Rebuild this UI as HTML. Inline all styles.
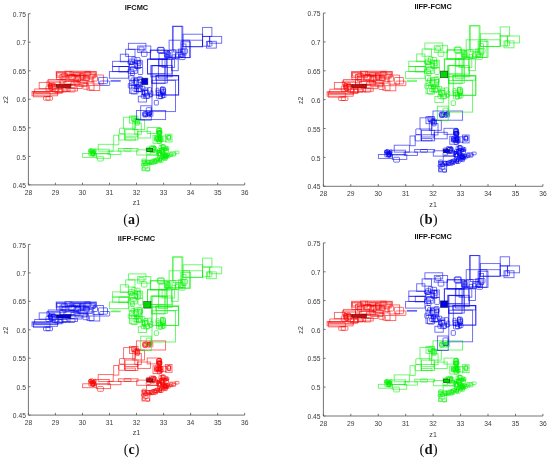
<!DOCTYPE html>
<html><head><meta charset="utf-8"><title>Figure</title>
<style>
html,body{margin:0;padding:0;background:#fff;}
body{width:550px;height:460px;overflow:hidden;}
svg{display:block;}
.tk{font-family:"Liberation Sans",sans-serif;font-size:6.7px;fill:#3a3a3a;}
.lb{font-family:"Liberation Sans",sans-serif;font-size:7.1px;fill:#3a3a3a;}
.tt{font-family:"Liberation Sans",sans-serif;font-size:7.4px;font-weight:bold;fill:#111;}
.cap{font-family:"Liberation Serif",serif;font-size:13.5px;fill:#111;}
.cap tspan{font-weight:bold;}
</style></head><body>
<svg width="550" height="460" viewBox="0 0 550 460">
<rect width="550" height="460" fill="#fff"/>
<defs><filter id="bl" x="-5%" y="-5%" width="110%" height="110%"><feGaussianBlur stdDeviation="0.4"/></filter></defs>

<g>
<g filter="url(#bl)">
<g fill="none" stroke="#f80000" stroke-width="0.9" stroke-opacity="0.62">
<rect x="39.2" y="82.4" width="10.3" height="6.2"/>
<rect x="33.0" y="91.5" width="25.0" height="2.5"/>
<rect x="32.0" y="91.5" width="25.6" height="4.3"/>
<rect x="34.7" y="89.0" width="27.3" height="4.3"/>
<rect x="33.5" y="92.5" width="16.5" height="4.3"/>
<rect x="43.5" y="96.5" width="6.5" height="3.7" rx="0.7"/>
<rect x="46.0" y="96.5" width="6.5" height="3.7" rx="0.7"/>
<rect x="48.2" y="79.5" width="17.8" height="2.7"/>
<rect x="47.0" y="81.0" width="13.0" height="4.0"/>
<rect x="49.0" y="84.0" width="7.0" height="6.0" rx="0.7"/>
<rect x="52.0" y="86.0" width="6.0" height="6.0" rx="0.7"/>
<rect x="46.0" y="86.0" width="7.0" height="5.0" rx="0.7"/>
<rect x="56.2" y="71.5" width="15.8" height="5.8"/>
<rect x="57.0" y="73.0" width="23.0" height="3.0"/>
<rect x="56.5" y="72.3" width="9.5" height="7.2"/>
<rect x="60.0" y="74.5" width="15.0" height="4.5"/>
<rect x="65.0" y="71.2" width="25.0" height="4.3"/>
<rect x="70.0" y="72.0" width="26.0" height="2.5"/>
<rect x="73.4" y="72.8" width="17.6" height="3.2"/>
<rect x="74.0" y="77.0" width="15.3" height="3.5"/>
<rect x="68.0" y="75.5" width="17.0" height="4.5"/>
<rect x="62.0" y="76.0" width="16.0" height="5.0"/>
<rect x="80.0" y="73.0" width="15.0" height="5.0"/>
<rect x="85.0" y="71.5" width="11.2" height="5.5"/>
<rect x="93.0" y="76.0" width="4.5" height="5.0" rx="0.7"/>
<rect x="89.3" y="85.5" width="10.4" height="5.0"/>
<rect x="87.0" y="81.5" width="7.0" height="8.5"/>
<rect x="93.0" y="75.0" width="10.4" height="9.0"/>
<rect x="83.0" y="83.7" width="5.4" height="5.5" rx="0.7"/>
<rect x="62.0" y="87.8" width="15.5" height="3.2"/>
<rect x="58.0" y="87.0" width="12.0" height="4.5"/>
<rect x="66.0" y="84.5" width="16.0" height="4.0"/>
<rect x="71.0" y="82.0" width="17.0" height="3.5"/>
<rect x="75.0" y="83.0" width="12.0" height="3.5"/>
<rect x="60.0" y="80.0" width="14.0" height="4.0"/>
<rect x="64.0" y="81.5" width="16.0" height="3.3"/>
<rect x="78.0" y="79.0" width="14.0" height="4.0"/>
<rect x="55.0" y="88.5" width="8.0" height="4.0"/>
<rect x="59.0" y="89.0" width="8.0" height="3.0"/>
<rect x="68.0" y="88.0" width="7.0" height="4.0" rx="0.7"/>
<rect x="51.7" y="82.9" width="3.3" height="2.9" rx="0.7"/>
<rect x="48.3" y="85.3" width="3.8" height="3.4" rx="0.7"/>
<rect x="48.4" y="83.0" width="2.6" height="3.6" rx="0.7"/>
<rect x="48.7" y="83.5" width="3.6" height="4.6" rx="0.7"/>
<rect x="50.8" y="84.1" width="4.1" height="4.9" rx="0.7"/>
<rect x="51.5" y="84.3" width="4.9" height="2.6" rx="0.7"/>
<rect x="49.9" y="87.6" width="2.9" height="2.8" rx="0.7"/>
<rect x="79.9" y="73.5" width="3.9" height="5.9" rx="0.7"/>
<rect x="61.7" y="73.4" width="5.7" height="3.3" rx="0.7"/>
<rect x="69.0" y="74.8" width="6.4" height="5.1" rx="0.7"/>
<rect x="83.6" y="75.8" width="5.3" height="4.5" rx="0.7"/>
<rect x="76.2" y="75.6" width="4.2" height="5.9" rx="0.7"/>
</g>
<g fill="none" stroke="#00f000" stroke-width="0.9" stroke-opacity="0.62">
<rect x="82.6" y="153.5" width="13.7" height="3.9"/>
<rect x="98.2" y="144.3" width="15.0" height="6.8"/>
<rect x="95.0" y="149.2" width="14.3" height="4.5"/>
<rect x="96.3" y="153.7" width="14.3" height="4.6"/>
<rect x="97.6" y="156.3" width="5.8" height="4.7" rx="0.7"/>
<rect x="108.0" y="151.1" width="13.0" height="3.3"/>
<rect x="118.4" y="148.5" width="19.6" height="2.6"/>
<rect x="124.0" y="148.5" width="7.0" height="2.6" rx="0.7"/>
<rect x="113.7" y="135.2" width="5.1" height="9.6"/>
<rect x="118.8" y="133.9" width="5.8" height="6.1" rx="0.7"/>
<rect x="119.5" y="128.2" width="5.1" height="5.7" rx="0.7"/>
<rect x="123.6" y="117.2" width="11.8" height="11.1"/>
<rect x="129.5" y="116.0" width="8.5" height="7.0"/>
<rect x="125.0" y="129.6" width="13.0" height="10.4"/>
<rect x="125.0" y="134.0" width="13.0" height="2.2"/>
<rect x="125.0" y="137.8" width="10.4" height="2.2"/>
<rect x="132.8" y="119.8" width="11.8" height="9.8"/>
<rect x="134.8" y="123.0" width="6.5" height="11.2"/>
<rect x="137.4" y="131.6" width="13.0" height="6.4"/>
<rect x="147.2" y="127.6" width="13.0" height="5.9"/>
<rect x="153.0" y="135.5" width="8.5" height="7.8"/>
<rect x="165.4" y="134.2" width="6.6" height="7.8"/>
<rect x="160.8" y="136.0" width="5.9" height="5.3" rx="0.7"/>
<rect x="169.3" y="151.8" width="6.5" height="3.2" rx="0.7"/>
<rect x="136.7" y="149.8" width="20.9" height="5.2"/>
<rect x="142.0" y="160.2" width="7.8" height="10.5"/>
<rect x="143.0" y="163.0" width="5.0" height="5.0" rx="0.7"/>
<rect x="146.5" y="155.0" width="11.1" height="8.5"/>
<rect x="149.8" y="160.2" width="6.5" height="4.0" rx="0.7"/>
<rect x="92.1" y="150.9" width="2.2" height="4.8" rx="0.7"/>
<rect x="88.8" y="151.3" width="2.3" height="4.6" rx="0.7"/>
<rect x="91.0" y="152.9" width="3.4" height="3.0" rx="0.7"/>
<rect x="91.2" y="149.8" width="2.8" height="2.4" rx="0.7"/>
<rect x="88.7" y="149.6" width="2.3" height="2.5" rx="0.7"/>
<rect x="92.3" y="149.9" width="2.9" height="2.9" rx="0.7"/>
<rect x="90.0" y="148.6" width="3.5" height="2.5" rx="0.7"/>
<rect x="92.3" y="151.7" width="2.8" height="2.0" rx="0.7"/>
<rect x="93.6" y="149.0" width="2.6" height="3.4" rx="0.7"/>
<rect x="90.2" y="152.3" width="4.5" height="3.3" rx="0.7"/>
<rect x="91.8" y="152.7" width="3.2" height="3.5" rx="0.7"/>
<rect x="92.0" y="150.6" width="3.0" height="4.5" rx="0.7"/>
<rect x="88.7" y="149.1" width="3.2" height="3.0" rx="0.7"/>
<rect x="89.9" y="149.1" width="2.2" height="4.2" rx="0.7"/>
<rect x="93.5" y="150.7" width="2.3" height="4.5" rx="0.7"/>
<rect x="89.9" y="150.8" width="2.8" height="2.7" rx="0.7"/>
<rect x="159.1" y="158.9" width="2.5" height="3.3" rx="0.7"/>
<rect x="158.3" y="158.7" width="4.9" height="3.6" rx="0.7"/>
<rect x="156.3" y="150.4" width="2.9" height="3.1" rx="0.7"/>
<rect x="158.2" y="152.0" width="3.4" height="3.5" rx="0.7"/>
<rect x="157.3" y="150.8" width="2.0" height="2.8" rx="0.7"/>
<rect x="159.6" y="148.4" width="2.1" height="2.1" rx="0.7"/>
<rect x="163.2" y="154.2" width="3.8" height="3.6" rx="0.7"/>
<rect x="159.7" y="149.0" width="4.1" height="4.6" rx="0.7"/>
<rect x="162.1" y="154.7" width="5.0" height="2.4" rx="0.7"/>
<rect x="166.0" y="153.2" width="2.1" height="4.5" rx="0.7"/>
<rect x="157.5" y="151.8" width="4.2" height="4.4" rx="0.7"/>
<rect x="163.9" y="155.9" width="3.5" height="4.5" rx="0.7"/>
<rect x="162.6" y="154.0" width="3.8" height="4.7" rx="0.7"/>
<rect x="157.7" y="150.4" width="2.7" height="2.1" rx="0.7"/>
<rect x="162.3" y="153.2" width="2.3" height="4.5" rx="0.7"/>
<rect x="160.8" y="144.6" width="3.9" height="4.0" rx="0.7"/>
<rect x="160.6" y="152.1" width="4.4" height="4.2" rx="0.7"/>
<rect x="162.9" y="148.6" width="4.0" height="2.2" rx="0.7"/>
<rect x="164.2" y="147.8" width="2.2" height="2.8" rx="0.7"/>
<rect x="160.6" y="149.7" width="4.2" height="4.9" rx="0.7"/>
<rect x="163.6" y="153.3" width="3.4" height="4.1" rx="0.7"/>
<rect x="157.6" y="148.7" width="3.9" height="2.2" rx="0.7"/>
<rect x="161.3" y="144.8" width="4.2" height="2.9" rx="0.7"/>
<rect x="163.6" y="155.3" width="2.2" height="2.8" rx="0.7"/>
<rect x="160.9" y="151.7" width="4.0" height="2.9" rx="0.7"/>
<rect x="164.9" y="147.8" width="3.4" height="2.4" rx="0.7"/>
<rect x="156.4" y="150.7" width="4.9" height="4.8" rx="0.7"/>
<rect x="160.1" y="148.2" width="4.5" height="4.9" rx="0.7"/>
<rect x="158.5" y="152.4" width="2.6" height="4.8" rx="0.7"/>
<rect x="166.4" y="146.5" width="2.4" height="3.6" rx="0.7"/>
<rect x="163.9" y="154.9" width="4.5" height="3.5" rx="0.7"/>
<rect x="161.3" y="144.9" width="2.7" height="4.7" rx="0.7"/>
<rect x="161.3" y="149.0" width="2.0" height="3.5" rx="0.7"/>
<rect x="159.6" y="157.3" width="2.4" height="3.0" rx="0.7"/>
<rect x="165.5" y="146.3" width="2.0" height="4.3" rx="0.7"/>
<rect x="163.7" y="148.7" width="4.8" height="4.1" rx="0.7"/>
<rect x="166.2" y="153.5" width="3.1" height="3.2" rx="0.7"/>
<rect x="159.0" y="145.3" width="3.1" height="3.3" rx="0.7"/>
<rect x="159.4" y="157.4" width="2.3" height="4.5" rx="0.7"/>
<rect x="161.5" y="147.5" width="2.7" height="2.8" rx="0.7"/>
<rect x="135.5" y="119.4" width="3.8" height="5.8" rx="0.7"/>
<rect x="135.0" y="118.4" width="4.7" height="5.7" rx="0.7"/>
<rect x="133.6" y="119.3" width="5.0" height="2.7" rx="0.7"/>
<rect x="131.4" y="116.3" width="5.1" height="4.8" rx="0.7"/>
<rect x="132.0" y="118.4" width="5.7" height="2.9" rx="0.7"/>
<rect x="146.6" y="160.3" width="3.2" height="4.3" rx="0.7"/>
<rect x="143.7" y="161.8" width="4.1" height="3.3" rx="0.7"/>
<rect x="142.3" y="167.1" width="2.9" height="2.9" rx="0.7"/>
<rect x="145.8" y="167.9" width="3.7" height="3.1" rx="0.7"/>
<rect x="142.0" y="158.9" width="3.6" height="2.8" rx="0.7"/>
<rect x="142.3" y="160.7" width="3.4" height="2.7" rx="0.7"/>
<rect x="149.6" y="147.0" width="4.5" height="5.6" rx="0.7"/>
<rect x="146.3" y="147.2" width="3.9" height="4.3" rx="0.7"/>
<rect x="153.3" y="146.3" width="2.7" height="3.5" rx="0.7"/>
<rect x="150.8" y="146.5" width="4.3" height="4.7" rx="0.7"/>
<rect x="146.7" y="148.1" width="3.4" height="3.4" rx="0.7"/>
<rect x="149.5" y="145.7" width="5.8" height="5.5" rx="0.7"/>
<rect x="152.6" y="147.5" width="2.6" height="5.0" rx="0.7"/>
<rect x="146.2" y="151.6" width="4.6" height="2.5" rx="0.7"/>
<rect x="150.8" y="146.5" width="5.4" height="5.5" rx="0.7"/>
<rect x="158.0" y="137.1" width="2.8" height="2.9" rx="0.7"/>
<rect x="157.0" y="137.1" width="4.9" height="4.3" rx="0.7"/>
<rect x="156.6" y="137.6" width="3.6" height="3.9" rx="0.7"/>
<rect x="158.1" y="131.5" width="3.1" height="4.8" rx="0.7"/>
<rect x="158.3" y="137.1" width="2.8" height="3.1" rx="0.7"/>
<rect x="158.0" y="135.9" width="2.8" height="2.7" rx="0.7"/>
<rect x="157.8" y="128.1" width="3.5" height="3.1" rx="0.7"/>
<rect x="158.7" y="136.1" width="3.3" height="3.7" rx="0.7"/>
<rect x="156.7" y="131.1" width="4.7" height="3.7" rx="0.7"/>
<rect x="156.7" y="128.3" width="4.9" height="4.3" rx="0.7"/>
<rect x="157.3" y="131.1" width="3.7" height="4.2" rx="0.7"/>
<rect x="156.8" y="128.4" width="4.2" height="4.8" rx="0.7"/>
<rect x="158.0" y="130.5" width="3.3" height="3.6" rx="0.7"/>
<rect x="157.1" y="130.4" width="4.5" height="4.3" rx="0.7"/>
<rect x="157.1" y="131.0" width="4.9" height="3.3" rx="0.7"/>
<rect x="157.3" y="139.2" width="3.1" height="4.4" rx="0.7"/>
<rect x="155.1" y="137.3" width="3.7" height="3.0" rx="0.7"/>
<rect x="154.5" y="136.5" width="4.2" height="4.9" rx="0.7"/>
<rect x="154.7" y="135.8" width="3.0" height="4.9" rx="0.7"/>
<rect x="160.1" y="138.7" width="2.7" height="3.5" rx="0.7"/>
<rect x="158.8" y="136.3" width="4.3" height="5.0" rx="0.7"/>
<rect x="158.8" y="135.8" width="3.0" height="4.8" rx="0.7"/>
<rect x="155.8" y="136.8" width="4.2" height="3.4" rx="0.7"/>
<rect x="155.6" y="137.2" width="2.9" height="2.5" rx="0.7"/>
<rect x="174.9" y="151.1" width="4.1" height="2.6" rx="0.7"/>
<rect x="171.9" y="153.0" width="3.8" height="3.1" rx="0.7"/>
<rect x="169.9" y="152.5" width="3.0" height="4.0" rx="0.7"/>
<rect x="167.8" y="153.9" width="4.0" height="2.3" rx="0.7"/>
<rect x="166.5" y="155.5" width="3.7" height="2.3" rx="0.7"/>
<rect x="163.7" y="154.5" width="4.0" height="2.7" rx="0.7"/>
<rect x="163.8" y="156.8" width="2.9" height="2.8" rx="0.7"/>
<rect x="162.4" y="156.5" width="2.7" height="3.6" rx="0.7"/>
<rect x="159.5" y="156.5" width="2.2" height="3.7" rx="0.7"/>
<rect x="157.9" y="158.6" width="4.1" height="2.3" rx="0.7"/>
<rect x="154.7" y="158.1" width="4.1" height="4.1" rx="0.7"/>
<rect x="153.6" y="158.8" width="3.1" height="3.2" rx="0.7"/>
<rect x="152.4" y="159.1" width="3.8" height="3.7" rx="0.7"/>
<rect x="150.5" y="161.4" width="3.4" height="2.9" rx="0.7"/>
<rect x="141.4" y="163.6" width="3.5" height="2.2" rx="0.7"/>
<rect x="143.6" y="163.6" width="2.5" height="2.2" rx="0.7"/>
<rect x="145.1" y="161.6" width="2.7" height="3.9" rx="0.7"/>
<rect x="148.8" y="162.5" width="2.6" height="2.3" rx="0.7"/>
<rect x="148.7" y="160.4" width="3.4" height="2.9" rx="0.7"/>
<rect x="151.0" y="159.2" width="3.2" height="3.3" rx="0.7"/>
<rect x="153.9" y="159.8" width="3.3" height="2.3" rx="0.7"/>
<rect x="156.1" y="157.7" width="3.1" height="2.8" rx="0.7"/>
<rect x="166.1" y="135.7" width="4.3" height="3.0" rx="0.7"/>
<rect x="167.8" y="135.4" width="2.9" height="4.7" rx="0.7"/>
<rect x="167.2" y="135.1" width="3.5" height="5.0" rx="0.7"/>
</g>
<g fill="none" stroke="#0000f0" stroke-width="0.9" stroke-opacity="0.62">
<rect x="136.4" y="110.5" width="29.2" height="9.1"/>
<rect x="147.1" y="112.1" width="2.9" height="3.6" rx="0.7"/>
<rect x="148.9" y="111.4" width="3.0" height="3.3" rx="0.7"/>
<rect x="142.6" y="112.1" width="3.9" height="3.6" rx="0.7"/>
<rect x="143.0" y="113.3" width="4.1" height="3.8" rx="0.7"/>
<rect x="143.3" y="111.6" width="4.5" height="4.9" rx="0.7"/>
<rect x="145.0" y="111.6" width="2.6" height="4.4" rx="0.7"/>
<rect x="149.3" y="111.6" width="3.6" height="4.8" rx="0.7"/>
<rect x="147.6" y="112.0" width="2.9" height="4.8" rx="0.7"/>
<rect x="148.7" y="112.7" width="2.7" height="2.6" rx="0.7"/>
</g>
<g fill="none" stroke="#0000f0" stroke-width="0.9" stroke-opacity="0.62">
<rect x="111.0" y="80.6" width="9.3" height="0.7"/>
<rect x="172.4" y="26.3" width="9.5" height="23.7"/>
<rect x="173.2" y="26.3" width="9.6" height="25.7"/>
<rect x="183.0" y="34.2" width="19.6" height="12.5"/>
<rect x="183.0" y="40.2" width="19.6" height="6.5"/>
<rect x="202.6" y="27.4" width="9.3" height="9.0"/>
<rect x="209.7" y="36.4" width="12.0" height="6.8"/>
<rect x="206.4" y="41.3" width="9.9" height="6.8"/>
<rect x="207.5" y="41.3" width="4.4" height="4.9" rx="0.7"/>
<rect x="202.6" y="36.4" width="7.1" height="9.8"/>
<rect x="169.1" y="40.2" width="20.4" height="17.4"/>
<rect x="180.8" y="41.8" width="9.8" height="15.8"/>
<rect x="182.0" y="44.0" width="4.0" height="11.0"/>
<rect x="150.4" y="50.0" width="16.9" height="9.3"/>
<rect x="158.0" y="47.3" width="6.0" height="6.0" rx="0.7"/>
<rect x="159.0" y="53.3" width="7.7" height="13.1"/>
<rect x="147.6" y="59.3" width="24.4" height="14.7"/>
<rect x="152.0" y="65.8" width="15.3" height="17.2"/>
<rect x="171.6" y="58.7" width="6.6" height="12.0"/>
<rect x="156.4" y="75.6" width="22.3" height="19.4"/>
<rect x="128.4" y="43.3" width="17.5" height="6.0"/>
<rect x="125.7" y="49.3" width="9.3" height="7.1"/>
<rect x="137.7" y="46.0" width="13.1" height="6.5"/>
<rect x="139.0" y="47.0" width="5.0" height="4.0" rx="0.7"/>
<rect x="141.5" y="51.0" width="5.5" height="5.4" rx="0.7"/>
<rect x="120.3" y="54.2" width="8.1" height="7.6"/>
<rect x="112.6" y="61.3" width="16.4" height="5.2"/>
<rect x="112.6" y="66.5" width="16.4" height="5.1"/>
<rect x="109.4" y="71.6" width="19.0" height="6.6"/>
<rect x="119.0" y="66.5" width="9.4" height="5.5"/>
<rect x="147.5" y="59.0" width="17.5" height="14.8"/>
<rect x="151.9" y="65.6" width="13.1" height="18.0"/>
<rect x="150.3" y="50.4" width="14.7" height="8.6"/>
<rect x="157.3" y="47.6" width="6.7" height="4.9" rx="0.7"/>
<rect x="152.0" y="76.0" width="26.5" height="19.0"/>
<rect x="152.0" y="80.3" width="23.5" height="31.3"/>
<rect x="140.7" y="105.8" width="10.6" height="14.3"/>
<rect x="146.3" y="107.7" width="5.0" height="7.4" rx="0.7"/>
<rect x="138.3" y="96.2" width="8.3" height="5.8"/>
<rect x="154.3" y="100.4" width="4.1" height="4.6" rx="0.7"/>
<rect x="129.5" y="85.0" width="7.0" height="8.3"/>
<rect x="131.0" y="88.0" width="7.0" height="6.0" rx="0.7"/>
<rect x="158.4" y="59.2" width="8.7" height="18.9"/>
<rect x="150.8" y="65.5" width="21.4" height="11.3"/>
<rect x="162.1" y="59.2" width="12.5" height="8.2"/>
<rect x="155.8" y="75.5" width="22.6" height="4.5"/>
<rect x="181.0" y="48.9" width="6.6" height="4.4" rx="0.7"/>
<rect x="166.9" y="50.5" width="5.1" height="6.8" rx="0.7"/>
<rect x="179.9" y="51.2" width="3.2" height="6.3" rx="0.7"/>
<rect x="175.6" y="52.4" width="7.4" height="4.6" rx="0.7"/>
<rect x="179.2" y="54.3" width="5.9" height="5.3" rx="0.7"/>
<rect x="165.1" y="52.0" width="5.4" height="6.3" rx="0.7"/>
<rect x="178.6" y="49.1" width="6.2" height="8.0"/>
<rect x="164.4" y="50.6" width="4.9" height="6.3" rx="0.7"/>
<rect x="165.2" y="54.5" width="3.8" height="3.6" rx="0.7"/>
<rect x="172.0" y="54.8" width="3.6" height="4.2" rx="0.7"/>
<rect x="175.3" y="54.0" width="3.4" height="5.2" rx="0.7"/>
<rect x="168.7" y="49.9" width="7.1" height="7.3" rx="0.7"/>
<rect x="137.8" y="60.3" width="4.8" height="7.4" rx="0.7"/>
<rect x="130.6" y="71.4" width="3.9" height="4.2" rx="0.7"/>
<rect x="128.0" y="69.3" width="5.9" height="4.3" rx="0.7"/>
<rect x="137.7" y="76.8" width="4.8" height="5.8" rx="0.7"/>
<rect x="134.4" y="57.6" width="5.6" height="6.1" rx="0.7"/>
<rect x="134.6" y="79.2" width="7.5" height="6.9" rx="0.7"/>
<rect x="129.0" y="75.7" width="5.0" height="5.0" rx="0.7"/>
<rect x="130.4" y="61.3" width="3.3" height="3.3" rx="0.7"/>
<rect x="128.0" y="61.0" width="4.7" height="3.3" rx="0.7"/>
<rect x="128.3" y="83.3" width="3.5" height="4.8" rx="0.7"/>
<rect x="130.3" y="67.2" width="6.1" height="3.7" rx="0.7"/>
<rect x="136.6" y="88.2" width="4.8" height="3.6" rx="0.7"/>
<rect x="128.8" y="59.1" width="5.3" height="5.4" rx="0.7"/>
<rect x="136.5" y="61.1" width="4.7" height="4.3" rx="0.7"/>
<rect x="134.3" y="60.1" width="3.1" height="7.8"/>
<rect x="132.9" y="88.2" width="5.7" height="3.1" rx="0.7"/>
<rect x="130.0" y="66.8" width="7.3" height="6.5" rx="0.7"/>
<rect x="133.9" y="78.7" width="3.8" height="6.9" rx="0.7"/>
<rect x="136.4" y="87.4" width="4.6" height="4.1" rx="0.7"/>
<rect x="134.3" y="77.4" width="7.3" height="7.0" rx="0.7"/>
<rect x="131.9" y="56.9" width="4.1" height="5.6" rx="0.7"/>
<rect x="131.1" y="77.9" width="3.1" height="4.4" rx="0.7"/>
<rect x="134.8" y="86.4" width="7.8" height="5.2"/>
<rect x="129.6" y="63.1" width="7.8" height="4.8"/>
<rect x="134.9" y="84.8" width="4.0" height="4.0" rx="0.7"/>
<rect x="133.1" y="80.5" width="7.2" height="5.4" rx="0.7"/>
<rect x="138.5" y="79.2" width="3.4" height="6.3" rx="0.7"/>
<rect x="129.5" y="80.2" width="6.8" height="5.4" rx="0.7"/>
<rect x="138.0" y="67.5" width="4.7" height="7.0" rx="0.7"/>
<rect x="135.2" y="60.8" width="5.0" height="7.7"/>
<rect x="149.1" y="94.0" width="2.9" height="3.0" rx="0.7"/>
<rect x="149.8" y="91.0" width="3.0" height="5.4" rx="0.7"/>
<rect x="141.2" y="86.1" width="3.7" height="4.4" rx="0.7"/>
<rect x="143.7" y="93.7" width="5.9" height="4.8" rx="0.7"/>
<rect x="147.4" y="87.6" width="4.0" height="5.6" rx="0.7"/>
<rect x="142.3" y="91.6" width="3.4" height="3.5" rx="0.7"/>
<rect x="141.3" y="94.2" width="3.4" height="4.0" rx="0.7"/>
<rect x="145.4" y="94.0" width="3.7" height="4.1" rx="0.7"/>
<rect x="144.5" y="89.9" width="4.0" height="5.7" rx="0.7"/>
<rect x="143.8" y="87.9" width="4.3" height="2.6" rx="0.7"/>
<rect x="141.8" y="89.6" width="2.5" height="5.3" rx="0.7"/>
<rect x="142.6" y="90.4" width="5.0" height="4.4" rx="0.7"/>
<rect x="156.1" y="90.3" width="4.4" height="5.2" rx="0.7"/>
<rect x="161.0" y="90.8" width="3.4" height="3.5" rx="0.7"/>
<rect x="161.0" y="89.5" width="4.5" height="5.2" rx="0.7"/>
<rect x="158.5" y="92.0" width="4.6" height="4.3" rx="0.7"/>
<rect x="158.6" y="94.1" width="4.1" height="4.4" rx="0.7"/>
<rect x="160.7" y="87.9" width="4.9" height="5.6" rx="0.7"/>
<rect x="160.6" y="87.0" width="4.5" height="5.8" rx="0.7"/>
<rect x="156.0" y="88.2" width="2.9" height="4.0" rx="0.7"/>
<rect x="161.6" y="93.3" width="2.8" height="4.8" rx="0.7"/>
<rect x="160.4" y="87.1" width="3.0" height="5.0" rx="0.7"/>
<rect x="156.6" y="92.8" width="5.6" height="5.9" rx="0.7"/>
<rect x="162.0" y="93.3" width="3.9" height="4.2" rx="0.7"/>
</g>
<g fill="none" stroke="#0000f0" stroke-width="0.9" stroke-opacity="0.62">
<rect x="98.4" y="77.4" width="9.1" height="6.3" rx="0.7"/>
<rect x="99.7" y="81.0" width="10.0" height="4.5" rx="0.7"/>
</g>
<rect x="56.5" y="84.3" width="14.4" height="3.2" fill="#e80000" stroke="#111" stroke-opacity="0.7" stroke-width="0.7"/>
<rect x="146.7" y="148.4" width="6.1" height="3.2" fill="#00d800" stroke="#111" stroke-opacity="0.7" stroke-width="0.7"/>
<rect x="142.1" y="78.2" width="5.7" height="6.5" fill="#0000f0" stroke="#111" stroke-opacity="0.7" stroke-width="0.7"/>
</g>
<path d="M28.4 13.7V184.9H244.7" fill="none" stroke="#5c5c5c" stroke-width="0.85"/>
<path d="M28.4 184.9v-2.2M55.4 184.9v-2.2M82.5 184.9v-2.2M109.5 184.9v-2.2M136.5 184.9v-2.2M163.6 184.9v-2.2M190.6 184.9v-2.2M217.7 184.9v-2.2M244.7 184.9v-2.2M28.4 184.9h2.2M28.4 156.4h2.2M28.4 127.8h2.2M28.4 99.3h2.2M28.4 70.8h2.2M28.4 42.2h2.2M28.4 13.7h2.2" fill="none" stroke="#5c5c5c" stroke-width="0.85"/>
<text class="tk" x="28.4" y="194.6" text-anchor="middle">28</text>
<text class="tk" x="55.4" y="194.6" text-anchor="middle">29</text>
<text class="tk" x="82.5" y="194.6" text-anchor="middle">30</text>
<text class="tk" x="109.5" y="194.6" text-anchor="middle">31</text>
<text class="tk" x="136.5" y="194.6" text-anchor="middle">32</text>
<text class="tk" x="163.6" y="194.6" text-anchor="middle">33</text>
<text class="tk" x="190.6" y="194.6" text-anchor="middle">34</text>
<text class="tk" x="217.7" y="194.6" text-anchor="middle">35</text>
<text class="tk" x="244.7" y="194.6" text-anchor="middle">36</text>
<text class="tk" x="25.9" y="188.0" text-anchor="end">0.45</text>
<text class="tk" x="25.9" y="159.5" text-anchor="end">0.5</text>
<text class="tk" x="25.9" y="130.9" text-anchor="end">0.55</text>
<text class="tk" x="25.9" y="102.4" text-anchor="end">0.6</text>
<text class="tk" x="25.9" y="73.9" text-anchor="end">0.65</text>
<text class="tk" x="25.9" y="45.3" text-anchor="end">0.7</text>
<text class="tk" x="25.9" y="16.8" text-anchor="end">0.75</text>
<text class="lb" x="136.5" y="204.8" text-anchor="middle">z1</text>
<text class="lb" transform="translate(8.4 99.8) rotate(-90)" text-anchor="middle">z2</text>
<text class="tt" x="136.5" y="10.1" text-anchor="middle">IFCMC</text>
<text class="cap" style="font-size:14px" x="131.5" y="223.5" text-anchor="middle">(<tspan>a</tspan>)</text>
</g>
<g>
<g filter="url(#bl)">
<g fill="none" stroke="#f80000" stroke-width="0.9" stroke-opacity="0.62">
<rect x="334.4" y="82.5" width="10.5" height="6.3"/>
<rect x="328.1" y="91.8" width="25.4" height="2.5"/>
<rect x="327.1" y="91.8" width="26.0" height="4.4"/>
<rect x="329.8" y="89.2" width="27.7" height="4.4"/>
<rect x="328.6" y="92.8" width="16.7" height="4.4"/>
<rect x="338.7" y="96.8" width="6.6" height="3.7" rx="0.7"/>
<rect x="341.3" y="96.8" width="6.6" height="3.7" rx="0.7"/>
<rect x="343.5" y="79.6" width="18.1" height="2.7"/>
<rect x="342.3" y="81.1" width="13.2" height="4.0"/>
<rect x="344.3" y="84.2" width="7.1" height="6.1" rx="0.7"/>
<rect x="347.3" y="86.2" width="6.1" height="6.1" rx="0.7"/>
<rect x="341.3" y="86.2" width="7.1" height="5.1" rx="0.7"/>
<rect x="351.6" y="71.5" width="16.0" height="5.9"/>
<rect x="352.4" y="73.0" width="23.3" height="3.0"/>
<rect x="351.9" y="72.3" width="9.6" height="7.3"/>
<rect x="355.5" y="74.5" width="15.2" height="4.6"/>
<rect x="360.5" y="71.2" width="25.4" height="4.4"/>
<rect x="365.6" y="72.0" width="26.4" height="2.5"/>
<rect x="369.1" y="72.8" width="17.9" height="3.2"/>
<rect x="369.7" y="77.1" width="15.5" height="3.5"/>
<rect x="363.6" y="75.6" width="17.3" height="4.6"/>
<rect x="357.5" y="76.1" width="16.2" height="5.1"/>
<rect x="375.8" y="73.0" width="15.2" height="5.1"/>
<rect x="380.8" y="71.5" width="11.4" height="5.6"/>
<rect x="389.0" y="76.1" width="4.6" height="5.1" rx="0.7"/>
<rect x="385.2" y="85.7" width="10.6" height="5.1"/>
<rect x="382.9" y="81.6" width="7.1" height="8.6"/>
<rect x="389.0" y="75.1" width="10.6" height="9.1"/>
<rect x="378.8" y="83.9" width="5.5" height="5.6" rx="0.7"/>
<rect x="357.5" y="88.0" width="15.7" height="3.2"/>
<rect x="353.4" y="87.2" width="12.2" height="4.6"/>
<rect x="361.6" y="84.7" width="16.2" height="4.0"/>
<rect x="366.6" y="82.1" width="17.3" height="3.5"/>
<rect x="370.7" y="83.2" width="12.2" height="3.5"/>
<rect x="355.5" y="80.1" width="14.2" height="4.0"/>
<rect x="359.5" y="81.6" width="16.2" height="3.3"/>
<rect x="373.7" y="79.1" width="14.2" height="4.0"/>
<rect x="350.4" y="88.7" width="8.1" height="4.0"/>
<rect x="354.5" y="89.2" width="8.1" height="3.0"/>
<rect x="363.6" y="88.2" width="7.1" height="4.0" rx="0.7"/>
<rect x="347.0" y="83.1" width="3.4" height="2.9" rx="0.7"/>
<rect x="343.6" y="85.5" width="3.9" height="3.5" rx="0.7"/>
<rect x="343.7" y="83.1" width="2.6" height="3.6" rx="0.7"/>
<rect x="344.0" y="83.6" width="3.6" height="4.6" rx="0.7"/>
<rect x="346.2" y="84.3" width="4.1" height="4.9" rx="0.7"/>
<rect x="346.8" y="84.5" width="5.0" height="2.6" rx="0.7"/>
<rect x="345.2" y="87.8" width="2.9" height="2.8" rx="0.7"/>
<rect x="375.6" y="73.6" width="4.0" height="6.0" rx="0.7"/>
<rect x="357.2" y="73.4" width="5.8" height="3.4" rx="0.7"/>
<rect x="364.6" y="74.9" width="6.5" height="5.2" rx="0.7"/>
<rect x="379.4" y="75.9" width="5.3" height="4.6" rx="0.7"/>
<rect x="371.9" y="75.7" width="4.3" height="5.9" rx="0.7"/>
</g>
<g fill="none" stroke="#0000f0" stroke-width="0.9" stroke-opacity="0.62">
<rect x="378.4" y="154.5" width="13.9" height="3.9"/>
<rect x="394.2" y="145.2" width="15.2" height="6.9"/>
<rect x="391.0" y="150.2" width="14.5" height="4.6"/>
<rect x="392.3" y="154.7" width="14.5" height="4.7"/>
<rect x="393.6" y="157.3" width="5.9" height="4.8" rx="0.7"/>
<rect x="404.2" y="152.1" width="13.2" height="3.3"/>
<rect x="414.7" y="149.5" width="19.9" height="2.6"/>
<rect x="420.4" y="149.5" width="7.1" height="2.6" rx="0.7"/>
<rect x="410.0" y="136.0" width="5.2" height="9.7"/>
<rect x="415.1" y="134.7" width="5.9" height="6.2" rx="0.7"/>
<rect x="415.8" y="128.9" width="5.2" height="5.8" rx="0.7"/>
<rect x="420.0" y="117.8" width="12.0" height="11.2"/>
<rect x="426.0" y="116.6" width="8.6" height="7.1"/>
<rect x="421.4" y="130.3" width="13.2" height="10.5"/>
<rect x="421.4" y="134.8" width="13.2" height="2.2"/>
<rect x="421.4" y="138.6" width="10.6" height="2.2"/>
<rect x="429.3" y="120.4" width="12.0" height="9.9"/>
<rect x="431.4" y="123.6" width="6.6" height="11.3"/>
<rect x="434.0" y="132.3" width="13.2" height="6.5"/>
<rect x="444.0" y="128.3" width="13.2" height="6.0"/>
<rect x="449.8" y="136.3" width="8.6" height="7.9"/>
<rect x="462.4" y="135.0" width="6.7" height="7.9"/>
<rect x="457.8" y="136.8" width="6.0" height="5.4" rx="0.7"/>
<rect x="466.4" y="152.8" width="6.6" height="3.2" rx="0.7"/>
<rect x="433.3" y="150.8" width="21.2" height="5.3"/>
<rect x="438.7" y="161.3" width="7.9" height="10.6"/>
<rect x="439.7" y="164.1" width="5.1" height="5.1" rx="0.7"/>
<rect x="443.2" y="156.0" width="11.3" height="8.6"/>
<rect x="446.6" y="161.3" width="6.6" height="4.0" rx="0.7"/>
<rect x="388.1" y="151.9" width="2.3" height="4.9" rx="0.7"/>
<rect x="384.7" y="152.3" width="2.3" height="4.6" rx="0.7"/>
<rect x="386.9" y="153.9" width="3.4" height="3.1" rx="0.7"/>
<rect x="387.1" y="150.8" width="2.8" height="2.4" rx="0.7"/>
<rect x="384.6" y="150.5" width="2.4" height="2.5" rx="0.7"/>
<rect x="388.3" y="150.9" width="3.0" height="3.0" rx="0.7"/>
<rect x="385.9" y="149.6" width="3.6" height="2.6" rx="0.7"/>
<rect x="388.3" y="152.7" width="2.8" height="2.1" rx="0.7"/>
<rect x="389.5" y="149.9" width="2.6" height="3.5" rx="0.7"/>
<rect x="386.1" y="153.3" width="4.5" height="3.3" rx="0.7"/>
<rect x="387.7" y="153.7" width="3.2" height="3.6" rx="0.7"/>
<rect x="387.9" y="151.6" width="3.1" height="4.6" rx="0.7"/>
<rect x="384.6" y="150.1" width="3.3" height="3.1" rx="0.7"/>
<rect x="385.8" y="150.0" width="2.2" height="4.3" rx="0.7"/>
<rect x="389.5" y="151.7" width="2.3" height="4.6" rx="0.7"/>
<rect x="385.9" y="151.8" width="2.9" height="2.8" rx="0.7"/>
<rect x="456.0" y="160.0" width="2.5" height="3.4" rx="0.7"/>
<rect x="455.2" y="159.7" width="5.0" height="3.7" rx="0.7"/>
<rect x="453.2" y="151.4" width="3.0" height="3.1" rx="0.7"/>
<rect x="455.1" y="153.0" width="3.5" height="3.6" rx="0.7"/>
<rect x="454.2" y="151.7" width="2.0" height="2.8" rx="0.7"/>
<rect x="456.5" y="149.3" width="2.2" height="2.1" rx="0.7"/>
<rect x="460.2" y="155.2" width="3.8" height="3.6" rx="0.7"/>
<rect x="456.7" y="150.0" width="4.2" height="4.7" rx="0.7"/>
<rect x="459.1" y="155.8" width="5.0" height="2.5" rx="0.7"/>
<rect x="463.0" y="154.2" width="2.2" height="4.6" rx="0.7"/>
<rect x="454.4" y="152.8" width="4.3" height="4.5" rx="0.7"/>
<rect x="460.9" y="157.0" width="3.6" height="4.6" rx="0.7"/>
<rect x="459.6" y="155.0" width="3.8" height="4.7" rx="0.7"/>
<rect x="454.6" y="151.4" width="2.7" height="2.1" rx="0.7"/>
<rect x="459.2" y="154.2" width="2.3" height="4.6" rx="0.7"/>
<rect x="457.7" y="145.6" width="3.9" height="4.1" rx="0.7"/>
<rect x="457.6" y="153.1" width="4.5" height="4.3" rx="0.7"/>
<rect x="459.9" y="149.6" width="4.0" height="2.2" rx="0.7"/>
<rect x="461.2" y="148.7" width="2.3" height="2.8" rx="0.7"/>
<rect x="457.6" y="150.6" width="4.3" height="5.0" rx="0.7"/>
<rect x="460.6" y="154.3" width="3.5" height="4.1" rx="0.7"/>
<rect x="454.5" y="149.6" width="4.0" height="2.3" rx="0.7"/>
<rect x="458.2" y="145.7" width="4.3" height="2.9" rx="0.7"/>
<rect x="460.6" y="156.3" width="2.2" height="2.8" rx="0.7"/>
<rect x="457.9" y="152.7" width="4.1" height="2.9" rx="0.7"/>
<rect x="461.9" y="148.7" width="3.4" height="2.4" rx="0.7"/>
<rect x="453.3" y="151.7" width="5.0" height="4.9" rx="0.7"/>
<rect x="457.1" y="149.1" width="4.5" height="5.0" rx="0.7"/>
<rect x="455.4" y="153.4" width="2.7" height="4.9" rx="0.7"/>
<rect x="463.4" y="147.5" width="2.5" height="3.6" rx="0.7"/>
<rect x="460.9" y="156.0" width="4.5" height="3.6" rx="0.7"/>
<rect x="458.3" y="145.8" width="2.7" height="4.8" rx="0.7"/>
<rect x="458.2" y="150.0" width="2.0" height="3.5" rx="0.7"/>
<rect x="456.6" y="158.4" width="2.5" height="3.1" rx="0.7"/>
<rect x="462.6" y="147.2" width="2.0" height="4.3" rx="0.7"/>
<rect x="460.7" y="149.6" width="4.8" height="4.2" rx="0.7"/>
<rect x="463.2" y="154.5" width="3.2" height="3.2" rx="0.7"/>
<rect x="456.0" y="146.2" width="3.1" height="3.3" rx="0.7"/>
<rect x="456.3" y="158.5" width="2.3" height="4.6" rx="0.7"/>
<rect x="458.5" y="148.5" width="2.8" height="2.8" rx="0.7"/>
<rect x="432.1" y="120.0" width="3.9" height="5.9" rx="0.7"/>
<rect x="431.6" y="118.9" width="4.8" height="5.8" rx="0.7"/>
<rect x="430.2" y="119.9" width="5.1" height="2.7" rx="0.7"/>
<rect x="427.9" y="116.8" width="5.2" height="4.8" rx="0.7"/>
<rect x="428.5" y="119.0" width="5.8" height="3.0" rx="0.7"/>
<rect x="443.4" y="161.3" width="3.3" height="4.4" rx="0.7"/>
<rect x="440.4" y="163.0" width="4.2" height="3.3" rx="0.7"/>
<rect x="438.9" y="168.3" width="3.0" height="2.9" rx="0.7"/>
<rect x="442.5" y="169.1" width="3.8" height="3.1" rx="0.7"/>
<rect x="438.7" y="160.0" width="3.7" height="2.9" rx="0.7"/>
<rect x="439.0" y="161.8" width="3.4" height="2.8" rx="0.7"/>
<rect x="446.4" y="147.9" width="4.6" height="5.7" rx="0.7"/>
<rect x="443.1" y="148.1" width="4.0" height="4.4" rx="0.7"/>
<rect x="450.2" y="147.2" width="2.8" height="3.5" rx="0.7"/>
<rect x="447.6" y="147.5" width="4.3" height="4.8" rx="0.7"/>
<rect x="443.5" y="149.1" width="3.5" height="3.4" rx="0.7"/>
<rect x="446.3" y="146.6" width="5.9" height="5.5" rx="0.7"/>
<rect x="449.5" y="148.4" width="2.7" height="5.0" rx="0.7"/>
<rect x="443.0" y="152.6" width="4.6" height="2.5" rx="0.7"/>
<rect x="447.6" y="147.4" width="5.5" height="5.6" rx="0.7"/>
<rect x="454.9" y="137.9" width="2.8" height="2.9" rx="0.7"/>
<rect x="453.9" y="137.9" width="4.9" height="4.4" rx="0.7"/>
<rect x="453.5" y="138.5" width="3.7" height="3.9" rx="0.7"/>
<rect x="455.0" y="132.2" width="3.1" height="4.9" rx="0.7"/>
<rect x="455.2" y="137.9" width="2.9" height="3.2" rx="0.7"/>
<rect x="454.9" y="136.7" width="2.8" height="2.7" rx="0.7"/>
<rect x="454.7" y="128.8" width="3.5" height="3.1" rx="0.7"/>
<rect x="455.7" y="136.9" width="3.3" height="3.7" rx="0.7"/>
<rect x="453.6" y="131.8" width="4.8" height="3.7" rx="0.7"/>
<rect x="453.6" y="129.0" width="5.0" height="4.3" rx="0.7"/>
<rect x="454.2" y="131.8" width="3.8" height="4.2" rx="0.7"/>
<rect x="453.7" y="129.1" width="4.2" height="4.9" rx="0.7"/>
<rect x="455.0" y="131.2" width="3.4" height="3.6" rx="0.7"/>
<rect x="454.0" y="131.2" width="4.6" height="4.4" rx="0.7"/>
<rect x="454.0" y="131.7" width="5.0" height="3.3" rx="0.7"/>
<rect x="454.2" y="140.1" width="3.1" height="4.5" rx="0.7"/>
<rect x="451.9" y="138.2" width="3.8" height="3.0" rx="0.7"/>
<rect x="451.4" y="137.3" width="4.2" height="4.9" rx="0.7"/>
<rect x="451.5" y="136.6" width="3.1" height="5.0" rx="0.7"/>
<rect x="457.1" y="139.6" width="2.7" height="3.5" rx="0.7"/>
<rect x="455.7" y="137.1" width="4.4" height="5.1" rx="0.7"/>
<rect x="455.7" y="136.6" width="3.0" height="4.9" rx="0.7"/>
<rect x="452.7" y="137.7" width="4.2" height="3.5" rx="0.7"/>
<rect x="452.5" y="138.1" width="3.0" height="2.5" rx="0.7"/>
<rect x="472.0" y="152.1" width="4.2" height="2.7" rx="0.7"/>
<rect x="469.1" y="154.0" width="3.9" height="3.1" rx="0.7"/>
<rect x="467.0" y="153.5" width="3.0" height="4.1" rx="0.7"/>
<rect x="464.8" y="154.9" width="4.0" height="2.3" rx="0.7"/>
<rect x="463.5" y="156.5" width="3.8" height="2.3" rx="0.7"/>
<rect x="460.7" y="155.5" width="4.1" height="2.8" rx="0.7"/>
<rect x="460.8" y="157.9" width="2.9" height="2.8" rx="0.7"/>
<rect x="459.4" y="157.6" width="2.8" height="3.7" rx="0.7"/>
<rect x="456.4" y="157.6" width="2.3" height="3.7" rx="0.7"/>
<rect x="454.8" y="159.7" width="4.1" height="2.3" rx="0.7"/>
<rect x="451.5" y="159.2" width="4.1" height="4.1" rx="0.7"/>
<rect x="450.4" y="159.9" width="3.1" height="3.2" rx="0.7"/>
<rect x="449.3" y="160.2" width="3.8" height="3.7" rx="0.7"/>
<rect x="447.3" y="162.5" width="3.5" height="2.9" rx="0.7"/>
<rect x="438.1" y="164.7" width="3.6" height="2.3" rx="0.7"/>
<rect x="440.3" y="164.8" width="2.6" height="2.2" rx="0.7"/>
<rect x="441.8" y="162.7" width="2.7" height="3.9" rx="0.7"/>
<rect x="445.5" y="163.6" width="2.6" height="2.3" rx="0.7"/>
<rect x="445.5" y="161.5" width="3.4" height="2.9" rx="0.7"/>
<rect x="447.8" y="160.3" width="3.3" height="3.4" rx="0.7"/>
<rect x="450.8" y="160.9" width="3.3" height="2.3" rx="0.7"/>
<rect x="453.0" y="158.8" width="3.2" height="2.8" rx="0.7"/>
<rect x="463.2" y="136.5" width="4.4" height="3.0" rx="0.7"/>
<rect x="464.9" y="136.2" width="2.9" height="4.8" rx="0.7"/>
<rect x="464.3" y="135.9" width="3.5" height="5.0" rx="0.7"/>
</g>
<g fill="none" stroke="#0000f0" stroke-width="0.9" stroke-opacity="0.62">
<rect x="433.0" y="111.0" width="29.6" height="9.2"/>
<rect x="443.8" y="112.6" width="2.9" height="3.6" rx="0.7"/>
<rect x="445.6" y="111.9" width="3.0" height="3.3" rx="0.7"/>
<rect x="439.3" y="112.6" width="3.9" height="3.6" rx="0.7"/>
<rect x="439.7" y="113.8" width="4.1" height="3.8" rx="0.7"/>
<rect x="440.0" y="112.1" width="4.5" height="5.0" rx="0.7"/>
<rect x="441.7" y="112.1" width="2.6" height="4.5" rx="0.7"/>
<rect x="446.0" y="112.1" width="3.6" height="4.8" rx="0.7"/>
<rect x="444.4" y="112.5" width="2.9" height="4.9" rx="0.7"/>
<rect x="445.5" y="113.2" width="2.8" height="2.7" rx="0.7"/>
</g>
<g fill="none" stroke="#00f000" stroke-width="0.9" stroke-opacity="0.62">
<rect x="407.2" y="80.7" width="9.4" height="0.7"/>
<rect x="469.5" y="25.8" width="9.6" height="24.0"/>
<rect x="470.3" y="25.8" width="9.7" height="26.0"/>
<rect x="480.3" y="33.8" width="19.9" height="12.7"/>
<rect x="480.3" y="39.8" width="19.9" height="6.6"/>
<rect x="500.2" y="26.9" width="9.4" height="9.1"/>
<rect x="507.4" y="36.0" width="12.2" height="6.9"/>
<rect x="504.0" y="40.9" width="10.0" height="6.9"/>
<rect x="505.1" y="40.9" width="4.5" height="5.0" rx="0.7"/>
<rect x="500.2" y="36.0" width="7.2" height="9.9"/>
<rect x="466.2" y="39.8" width="20.7" height="17.6"/>
<rect x="478.1" y="41.4" width="9.9" height="16.0"/>
<rect x="479.3" y="43.7" width="4.1" height="11.1"/>
<rect x="447.2" y="49.7" width="17.2" height="9.4"/>
<rect x="454.9" y="47.0" width="6.1" height="6.1" rx="0.7"/>
<rect x="455.9" y="53.1" width="7.8" height="13.3"/>
<rect x="444.4" y="59.2" width="24.8" height="14.9"/>
<rect x="448.8" y="65.7" width="15.5" height="17.4"/>
<rect x="468.7" y="58.6" width="6.7" height="12.1"/>
<rect x="453.3" y="75.7" width="22.6" height="19.6"/>
<rect x="424.9" y="43.0" width="17.8" height="6.1"/>
<rect x="422.1" y="49.0" width="9.4" height="7.2"/>
<rect x="434.3" y="45.7" width="13.3" height="6.6"/>
<rect x="435.6" y="46.7" width="5.1" height="4.0" rx="0.7"/>
<rect x="438.2" y="50.8" width="5.6" height="5.5" rx="0.7"/>
<rect x="416.7" y="54.0" width="8.2" height="7.7"/>
<rect x="408.8" y="61.2" width="16.6" height="5.3"/>
<rect x="408.8" y="66.4" width="16.6" height="5.2"/>
<rect x="405.6" y="71.6" width="19.3" height="6.7"/>
<rect x="415.3" y="66.4" width="9.5" height="5.6"/>
<rect x="444.3" y="58.9" width="17.8" height="15.0"/>
<rect x="448.7" y="65.5" width="13.3" height="18.2"/>
<rect x="447.1" y="50.2" width="14.9" height="8.7"/>
<rect x="454.2" y="47.3" width="6.8" height="5.0" rx="0.7"/>
<rect x="448.8" y="76.1" width="26.9" height="19.2"/>
<rect x="448.8" y="80.4" width="23.8" height="31.7"/>
<rect x="437.4" y="106.2" width="10.8" height="14.5"/>
<rect x="443.0" y="108.2" width="5.1" height="7.5" rx="0.7"/>
<rect x="434.9" y="96.5" width="8.4" height="5.9"/>
<rect x="451.2" y="100.8" width="4.2" height="4.7" rx="0.7"/>
<rect x="426.0" y="85.2" width="7.1" height="8.4"/>
<rect x="427.5" y="88.2" width="7.1" height="6.1" rx="0.7"/>
<rect x="455.3" y="59.1" width="8.8" height="19.1"/>
<rect x="447.6" y="65.4" width="21.7" height="11.4"/>
<rect x="459.1" y="59.1" width="12.7" height="8.3"/>
<rect x="452.7" y="75.6" width="22.9" height="4.6"/>
<rect x="478.3" y="48.6" width="6.7" height="4.5" rx="0.7"/>
<rect x="463.9" y="50.3" width="5.2" height="6.9" rx="0.7"/>
<rect x="477.1" y="51.0" width="3.2" height="6.4" rx="0.7"/>
<rect x="472.7" y="52.2" width="7.5" height="4.6" rx="0.7"/>
<rect x="476.4" y="54.1" width="6.0" height="5.3" rx="0.7"/>
<rect x="462.2" y="51.8" width="5.4" height="6.4" rx="0.7"/>
<rect x="475.8" y="48.9" width="6.3" height="8.1"/>
<rect x="461.4" y="50.4" width="5.0" height="6.4" rx="0.7"/>
<rect x="462.2" y="54.3" width="3.9" height="3.6" rx="0.7"/>
<rect x="469.1" y="54.6" width="3.7" height="4.3" rx="0.7"/>
<rect x="472.5" y="53.8" width="3.5" height="5.3" rx="0.7"/>
<rect x="465.8" y="49.7" width="7.2" height="7.4" rx="0.7"/>
<rect x="434.4" y="60.2" width="4.9" height="7.5"/>
<rect x="427.1" y="71.4" width="3.9" height="4.2" rx="0.7"/>
<rect x="424.5" y="69.3" width="6.0" height="4.4" rx="0.7"/>
<rect x="434.3" y="76.9" width="4.9" height="5.9" rx="0.7"/>
<rect x="430.9" y="57.5" width="5.7" height="6.2" rx="0.7"/>
<rect x="431.1" y="79.3" width="7.6" height="7.0"/>
<rect x="425.5" y="75.7" width="5.0" height="5.1" rx="0.7"/>
<rect x="426.9" y="61.2" width="3.4" height="3.4" rx="0.7"/>
<rect x="424.5" y="60.8" width="4.8" height="3.3" rx="0.7"/>
<rect x="424.8" y="83.4" width="3.6" height="4.9" rx="0.7"/>
<rect x="426.8" y="67.2" width="6.2" height="3.8" rx="0.7"/>
<rect x="433.2" y="88.4" width="4.9" height="3.7" rx="0.7"/>
<rect x="425.3" y="59.0" width="5.4" height="5.5" rx="0.7"/>
<rect x="433.1" y="61.0" width="4.8" height="4.4" rx="0.7"/>
<rect x="430.8" y="60.0" width="3.2" height="7.9"/>
<rect x="429.4" y="88.4" width="5.8" height="3.2" rx="0.7"/>
<rect x="426.5" y="66.8" width="7.4" height="6.6" rx="0.7"/>
<rect x="430.5" y="78.8" width="3.9" height="6.9" rx="0.7"/>
<rect x="433.0" y="87.6" width="4.7" height="4.2" rx="0.7"/>
<rect x="430.9" y="77.5" width="7.4" height="7.1" rx="0.7"/>
<rect x="428.4" y="56.7" width="4.2" height="5.7" rx="0.7"/>
<rect x="427.6" y="78.0" width="3.2" height="4.5" rx="0.7"/>
<rect x="431.3" y="86.6" width="7.9" height="5.3"/>
<rect x="426.1" y="63.0" width="7.9" height="4.9"/>
<rect x="431.5" y="85.0" width="4.0" height="4.1" rx="0.7"/>
<rect x="429.6" y="80.6" width="7.3" height="5.5" rx="0.7"/>
<rect x="435.2" y="79.3" width="3.5" height="6.4" rx="0.7"/>
<rect x="426.0" y="80.3" width="6.9" height="5.5" rx="0.7"/>
<rect x="434.7" y="67.4" width="4.7" height="7.1" rx="0.7"/>
<rect x="431.8" y="60.7" width="5.1" height="7.8"/>
<rect x="445.9" y="94.3" width="3.0" height="3.1" rx="0.7"/>
<rect x="446.6" y="91.2" width="3.1" height="5.5" rx="0.7"/>
<rect x="437.9" y="86.3" width="3.8" height="4.5" rx="0.7"/>
<rect x="440.4" y="94.0" width="6.0" height="4.8" rx="0.7"/>
<rect x="444.2" y="87.8" width="4.1" height="5.6" rx="0.7"/>
<rect x="439.0" y="91.8" width="3.4" height="3.6" rx="0.7"/>
<rect x="437.9" y="94.5" width="3.5" height="4.0" rx="0.7"/>
<rect x="442.1" y="94.3" width="3.8" height="4.2" rx="0.7"/>
<rect x="441.2" y="90.1" width="4.0" height="5.8" rx="0.7"/>
<rect x="440.5" y="88.1" width="4.4" height="2.6" rx="0.7"/>
<rect x="438.5" y="89.9" width="2.6" height="5.4" rx="0.7"/>
<rect x="439.3" y="90.7" width="5.1" height="4.5" rx="0.7"/>
<rect x="453.0" y="90.6" width="4.5" height="5.3" rx="0.7"/>
<rect x="458.0" y="91.1" width="3.4" height="3.5" rx="0.7"/>
<rect x="458.0" y="89.7" width="4.5" height="5.2" rx="0.7"/>
<rect x="455.4" y="92.3" width="4.7" height="4.3" rx="0.7"/>
<rect x="455.5" y="94.4" width="4.1" height="4.4" rx="0.7"/>
<rect x="457.7" y="88.1" width="5.0" height="5.6" rx="0.7"/>
<rect x="457.5" y="87.2" width="4.5" height="5.9" rx="0.7"/>
<rect x="452.9" y="88.4" width="3.0" height="4.1" rx="0.7"/>
<rect x="458.5" y="93.6" width="2.8" height="4.9" rx="0.7"/>
<rect x="457.4" y="87.3" width="3.1" height="5.1" rx="0.7"/>
<rect x="453.5" y="93.0" width="5.7" height="6.0" rx="0.7"/>
<rect x="459.0" y="93.6" width="4.0" height="4.3" rx="0.7"/>
</g>
<g fill="none" stroke="#f80000" stroke-width="0.9" stroke-opacity="0.62">
<rect x="394.4" y="77.5" width="9.2" height="6.4" rx="0.7"/>
<rect x="395.8" y="81.1" width="10.1" height="4.6" rx="0.7"/>
</g>
<rect x="351.9" y="84.5" width="14.6" height="3.2" fill="#e80000" stroke="#111" stroke-opacity="0.7" stroke-width="0.7"/>
<rect x="443.5" y="149.4" width="6.2" height="3.2" fill="#0000f0" stroke="#111" stroke-opacity="0.7" stroke-width="0.7"/>
<rect x="440.4" y="71.1" width="7.3" height="6.6" fill="#00d800" stroke="#111" stroke-opacity="0.7" stroke-width="0.7"/>
</g>
<path d="M323.4 13.0V186.3H542.9" fill="none" stroke="#5c5c5c" stroke-width="0.85"/>
<path d="M323.4 186.3v-2.2M350.8 186.3v-2.2M378.3 186.3v-2.2M405.7 186.3v-2.2M433.1 186.3v-2.2M460.6 186.3v-2.2M488.0 186.3v-2.2M515.5 186.3v-2.2M542.9 186.3v-2.2M323.4 186.3h2.2M323.4 157.4h2.2M323.4 128.5h2.2M323.4 99.6h2.2M323.4 70.8h2.2M323.4 41.9h2.2M323.4 13.0h2.2" fill="none" stroke="#5c5c5c" stroke-width="0.85"/>
<text class="tk" x="323.4" y="196.0" text-anchor="middle">28</text>
<text class="tk" x="350.8" y="196.0" text-anchor="middle">29</text>
<text class="tk" x="378.3" y="196.0" text-anchor="middle">30</text>
<text class="tk" x="405.7" y="196.0" text-anchor="middle">31</text>
<text class="tk" x="433.1" y="196.0" text-anchor="middle">32</text>
<text class="tk" x="460.6" y="196.0" text-anchor="middle">33</text>
<text class="tk" x="488.0" y="196.0" text-anchor="middle">34</text>
<text class="tk" x="515.5" y="196.0" text-anchor="middle">35</text>
<text class="tk" x="542.9" y="196.0" text-anchor="middle">36</text>
<text class="tk" x="320.5" y="189.4" text-anchor="end">0.45</text>
<text class="tk" x="320.5" y="160.5" text-anchor="end">0.5</text>
<text class="tk" x="320.5" y="131.6" text-anchor="end">0.55</text>
<text class="tk" x="320.5" y="102.7" text-anchor="end">0.6</text>
<text class="tk" x="320.5" y="73.9" text-anchor="end">0.65</text>
<text class="tk" x="320.5" y="45.0" text-anchor="end">0.7</text>
<text class="tk" x="320.5" y="16.1" text-anchor="end">0.75</text>
<text class="lb" x="433.1" y="206.5" text-anchor="middle">z1</text>
<text class="lb" transform="translate(303.4 100.2) rotate(-90)" text-anchor="middle">z2</text>
<text class="tt" x="433.1" y="9.4" text-anchor="middle">IIFP-FCMC</text>
<text class="cap" style="font-size:14.7px" x="428.6" y="223.9" text-anchor="middle">(<tspan>b</tspan>)</text>
</g>
<g>
<g filter="url(#bl)">
<g fill="none" stroke="#0000f0" stroke-width="0.9" stroke-opacity="0.62">
<rect x="39.2" y="312.9" width="10.3" height="6.2"/>
<rect x="33.0" y="322.0" width="25.0" height="2.5"/>
<rect x="32.0" y="322.0" width="25.6" height="4.3"/>
<rect x="34.7" y="319.5" width="27.3" height="4.3"/>
<rect x="33.5" y="323.0" width="16.5" height="4.3"/>
<rect x="43.5" y="327.0" width="6.5" height="3.7" rx="0.7"/>
<rect x="46.0" y="327.0" width="6.5" height="3.7" rx="0.7"/>
<rect x="48.2" y="310.0" width="17.8" height="2.7"/>
<rect x="47.0" y="311.5" width="13.0" height="4.0"/>
<rect x="49.0" y="314.5" width="7.0" height="6.0" rx="0.7"/>
<rect x="52.0" y="316.5" width="6.0" height="6.0" rx="0.7"/>
<rect x="46.0" y="316.5" width="7.0" height="5.0" rx="0.7"/>
<rect x="56.2" y="302.0" width="15.8" height="5.8"/>
<rect x="57.0" y="303.5" width="23.0" height="3.0"/>
<rect x="56.5" y="302.8" width="9.5" height="7.2"/>
<rect x="60.0" y="305.0" width="15.0" height="4.5"/>
<rect x="65.0" y="301.7" width="25.0" height="4.3"/>
<rect x="70.0" y="302.5" width="26.0" height="2.5"/>
<rect x="73.4" y="303.3" width="17.6" height="3.2"/>
<rect x="74.0" y="307.5" width="15.3" height="3.5"/>
<rect x="68.0" y="306.0" width="17.0" height="4.5"/>
<rect x="62.0" y="306.5" width="16.0" height="5.0"/>
<rect x="80.0" y="303.5" width="15.0" height="5.0"/>
<rect x="85.0" y="302.0" width="11.2" height="5.5"/>
<rect x="93.0" y="306.5" width="4.5" height="5.0" rx="0.7"/>
<rect x="89.3" y="316.0" width="10.4" height="5.0"/>
<rect x="87.0" y="312.0" width="7.0" height="8.5"/>
<rect x="93.0" y="305.5" width="10.4" height="9.0"/>
<rect x="83.0" y="314.2" width="5.4" height="5.5" rx="0.7"/>
<rect x="62.0" y="318.3" width="15.5" height="3.2"/>
<rect x="58.0" y="317.5" width="12.0" height="4.5"/>
<rect x="66.0" y="315.0" width="16.0" height="4.0"/>
<rect x="71.0" y="312.5" width="17.0" height="3.5"/>
<rect x="75.0" y="313.5" width="12.0" height="3.5"/>
<rect x="60.0" y="310.5" width="14.0" height="4.0"/>
<rect x="64.0" y="312.0" width="16.0" height="3.3"/>
<rect x="78.0" y="309.5" width="14.0" height="4.0"/>
<rect x="55.0" y="319.0" width="8.0" height="4.0"/>
<rect x="59.0" y="319.5" width="8.0" height="3.0"/>
<rect x="68.0" y="318.5" width="7.0" height="4.0" rx="0.7"/>
<rect x="51.7" y="313.4" width="3.3" height="2.9" rx="0.7"/>
<rect x="48.3" y="315.8" width="3.8" height="3.4" rx="0.7"/>
<rect x="48.4" y="313.5" width="2.6" height="3.6" rx="0.7"/>
<rect x="48.7" y="314.0" width="3.6" height="4.6" rx="0.7"/>
<rect x="50.8" y="314.6" width="4.1" height="4.9" rx="0.7"/>
<rect x="51.5" y="314.8" width="4.9" height="2.6" rx="0.7"/>
<rect x="49.9" y="318.0" width="2.9" height="2.8" rx="0.7"/>
<rect x="79.9" y="304.0" width="3.9" height="5.9" rx="0.7"/>
<rect x="61.7" y="303.9" width="5.7" height="3.3" rx="0.7"/>
<rect x="69.0" y="305.4" width="6.4" height="5.1" rx="0.7"/>
<rect x="83.6" y="306.4" width="5.3" height="4.5" rx="0.7"/>
<rect x="76.2" y="306.1" width="4.2" height="5.9" rx="0.7"/>
</g>
<g fill="none" stroke="#f80000" stroke-width="0.9" stroke-opacity="0.62">
<rect x="82.6" y="383.8" width="13.7" height="3.9"/>
<rect x="98.2" y="374.6" width="15.0" height="6.8"/>
<rect x="95.0" y="379.5" width="14.3" height="4.5"/>
<rect x="96.3" y="384.0" width="14.3" height="4.6"/>
<rect x="97.6" y="386.6" width="5.8" height="4.7" rx="0.7"/>
<rect x="108.0" y="381.4" width="13.0" height="3.3"/>
<rect x="118.4" y="378.8" width="19.6" height="2.6"/>
<rect x="124.0" y="378.8" width="7.0" height="2.6" rx="0.7"/>
<rect x="113.7" y="365.5" width="5.1" height="9.6"/>
<rect x="118.8" y="364.2" width="5.8" height="6.1" rx="0.7"/>
<rect x="119.5" y="358.6" width="5.1" height="5.7" rx="0.7"/>
<rect x="123.6" y="347.6" width="11.8" height="11.1"/>
<rect x="129.5" y="346.4" width="8.5" height="7.0"/>
<rect x="125.0" y="360.0" width="13.0" height="10.4"/>
<rect x="125.0" y="364.3" width="13.0" height="2.2"/>
<rect x="125.0" y="368.1" width="10.4" height="2.2"/>
<rect x="132.8" y="350.2" width="11.8" height="9.8"/>
<rect x="134.8" y="353.4" width="6.5" height="11.2"/>
<rect x="137.4" y="362.0" width="13.0" height="6.4"/>
<rect x="147.2" y="358.0" width="13.0" height="5.9"/>
<rect x="153.0" y="365.8" width="8.5" height="7.8"/>
<rect x="165.4" y="364.5" width="6.6" height="7.8"/>
<rect x="160.8" y="366.3" width="5.9" height="5.3" rx="0.7"/>
<rect x="169.3" y="382.1" width="6.5" height="3.2" rx="0.7"/>
<rect x="136.7" y="380.1" width="20.9" height="5.2"/>
<rect x="142.0" y="390.5" width="7.8" height="10.5"/>
<rect x="143.0" y="393.3" width="5.0" height="5.0" rx="0.7"/>
<rect x="146.5" y="385.3" width="11.1" height="8.5"/>
<rect x="149.8" y="390.5" width="6.5" height="4.0" rx="0.7"/>
<rect x="92.1" y="381.2" width="2.2" height="4.8" rx="0.7"/>
<rect x="88.8" y="381.6" width="2.3" height="4.6" rx="0.7"/>
<rect x="91.0" y="383.2" width="3.4" height="3.0" rx="0.7"/>
<rect x="91.2" y="380.1" width="2.8" height="2.4" rx="0.7"/>
<rect x="88.7" y="379.9" width="2.3" height="2.5" rx="0.7"/>
<rect x="92.3" y="380.2" width="2.9" height="2.9" rx="0.7"/>
<rect x="90.0" y="378.9" width="3.5" height="2.5" rx="0.7"/>
<rect x="92.3" y="382.0" width="2.8" height="2.0" rx="0.7"/>
<rect x="93.6" y="379.3" width="2.6" height="3.4" rx="0.7"/>
<rect x="90.2" y="382.6" width="4.5" height="3.3" rx="0.7"/>
<rect x="91.8" y="383.0" width="3.2" height="3.5" rx="0.7"/>
<rect x="92.0" y="380.9" width="3.0" height="4.5" rx="0.7"/>
<rect x="88.7" y="379.4" width="3.2" height="3.0" rx="0.7"/>
<rect x="89.9" y="379.4" width="2.2" height="4.2" rx="0.7"/>
<rect x="93.5" y="381.0" width="2.3" height="4.5" rx="0.7"/>
<rect x="89.9" y="381.1" width="2.8" height="2.7" rx="0.7"/>
<rect x="159.1" y="389.2" width="2.5" height="3.3" rx="0.7"/>
<rect x="158.3" y="388.9" width="4.9" height="3.6" rx="0.7"/>
<rect x="156.3" y="380.7" width="2.9" height="3.1" rx="0.7"/>
<rect x="158.2" y="382.3" width="3.4" height="3.5" rx="0.7"/>
<rect x="157.3" y="381.1" width="2.0" height="2.8" rx="0.7"/>
<rect x="159.6" y="378.7" width="2.1" height="2.1" rx="0.7"/>
<rect x="163.2" y="384.5" width="3.8" height="3.6" rx="0.7"/>
<rect x="159.7" y="379.3" width="4.1" height="4.6" rx="0.7"/>
<rect x="162.1" y="385.0" width="5.0" height="2.4" rx="0.7"/>
<rect x="166.0" y="383.5" width="2.1" height="4.5" rx="0.7"/>
<rect x="157.5" y="382.1" width="4.2" height="4.4" rx="0.7"/>
<rect x="163.9" y="386.2" width="3.5" height="4.5" rx="0.7"/>
<rect x="162.6" y="384.3" width="3.8" height="4.7" rx="0.7"/>
<rect x="157.7" y="380.7" width="2.7" height="2.1" rx="0.7"/>
<rect x="162.3" y="383.5" width="2.3" height="4.5" rx="0.7"/>
<rect x="160.8" y="375.0" width="3.9" height="4.0" rx="0.7"/>
<rect x="160.6" y="382.4" width="4.4" height="4.2" rx="0.7"/>
<rect x="162.9" y="378.9" width="4.0" height="2.2" rx="0.7"/>
<rect x="164.2" y="378.1" width="2.2" height="2.8" rx="0.7"/>
<rect x="160.6" y="380.0" width="4.2" height="4.9" rx="0.7"/>
<rect x="163.6" y="383.6" width="3.4" height="4.0" rx="0.7"/>
<rect x="157.6" y="379.0" width="3.9" height="2.2" rx="0.7"/>
<rect x="161.3" y="375.1" width="4.2" height="2.9" rx="0.7"/>
<rect x="163.6" y="385.5" width="2.2" height="2.8" rx="0.7"/>
<rect x="160.9" y="382.0" width="4.0" height="2.9" rx="0.7"/>
<rect x="164.9" y="378.1" width="3.4" height="2.3" rx="0.7"/>
<rect x="156.4" y="381.0" width="4.9" height="4.8" rx="0.7"/>
<rect x="160.1" y="378.5" width="4.5" height="4.9" rx="0.7"/>
<rect x="158.5" y="382.7" width="2.6" height="4.8" rx="0.7"/>
<rect x="166.4" y="376.9" width="2.4" height="3.6" rx="0.7"/>
<rect x="163.9" y="385.2" width="4.5" height="3.5" rx="0.7"/>
<rect x="161.3" y="375.3" width="2.7" height="4.7" rx="0.7"/>
<rect x="161.3" y="379.4" width="2.0" height="3.5" rx="0.7"/>
<rect x="159.6" y="387.6" width="2.4" height="3.0" rx="0.7"/>
<rect x="165.5" y="376.6" width="2.0" height="4.2" rx="0.7"/>
<rect x="163.7" y="379.0" width="4.8" height="4.1" rx="0.7"/>
<rect x="166.2" y="383.7" width="3.1" height="3.2" rx="0.7"/>
<rect x="159.0" y="375.6" width="3.1" height="3.3" rx="0.7"/>
<rect x="159.4" y="387.7" width="2.3" height="4.5" rx="0.7"/>
<rect x="161.5" y="377.8" width="2.7" height="2.8" rx="0.7"/>
<rect x="135.5" y="349.8" width="3.8" height="5.8" rx="0.7"/>
<rect x="135.0" y="348.8" width="4.7" height="5.7" rx="0.7"/>
<rect x="133.6" y="349.7" width="5.0" height="2.7" rx="0.7"/>
<rect x="131.4" y="346.7" width="5.1" height="4.7" rx="0.7"/>
<rect x="132.0" y="348.8" width="5.7" height="2.9" rx="0.7"/>
<rect x="146.6" y="390.5" width="3.2" height="4.3" rx="0.7"/>
<rect x="143.7" y="392.1" width="4.1" height="3.2" rx="0.7"/>
<rect x="142.3" y="397.4" width="2.9" height="2.9" rx="0.7"/>
<rect x="145.8" y="398.2" width="3.7" height="3.0" rx="0.7"/>
<rect x="142.0" y="389.2" width="3.6" height="2.8" rx="0.7"/>
<rect x="142.3" y="390.9" width="3.4" height="2.7" rx="0.7"/>
<rect x="149.6" y="377.3" width="4.5" height="5.6" rx="0.7"/>
<rect x="146.3" y="377.5" width="3.9" height="4.3" rx="0.7"/>
<rect x="153.3" y="376.6" width="2.7" height="3.5" rx="0.7"/>
<rect x="150.8" y="376.8" width="4.3" height="4.7" rx="0.7"/>
<rect x="146.7" y="378.4" width="3.4" height="3.4" rx="0.7"/>
<rect x="149.5" y="376.0" width="5.8" height="5.5" rx="0.7"/>
<rect x="152.6" y="377.8" width="2.6" height="5.0" rx="0.7"/>
<rect x="146.2" y="381.9" width="4.6" height="2.5" rx="0.7"/>
<rect x="150.8" y="376.8" width="5.4" height="5.5" rx="0.7"/>
<rect x="158.0" y="367.4" width="2.8" height="2.9" rx="0.7"/>
<rect x="157.0" y="367.4" width="4.9" height="4.3" rx="0.7"/>
<rect x="156.6" y="368.0" width="3.6" height="3.9" rx="0.7"/>
<rect x="158.1" y="361.8" width="3.1" height="4.8" rx="0.7"/>
<rect x="158.3" y="367.5" width="2.8" height="3.1" rx="0.7"/>
<rect x="158.0" y="366.2" width="2.8" height="2.7" rx="0.7"/>
<rect x="157.8" y="358.5" width="3.5" height="3.1" rx="0.7"/>
<rect x="158.7" y="366.4" width="3.3" height="3.6" rx="0.7"/>
<rect x="156.7" y="361.4" width="4.7" height="3.7" rx="0.7"/>
<rect x="156.7" y="358.6" width="4.9" height="4.2" rx="0.7"/>
<rect x="157.3" y="361.4" width="3.7" height="4.2" rx="0.7"/>
<rect x="156.8" y="358.8" width="4.2" height="4.8" rx="0.7"/>
<rect x="158.0" y="360.9" width="3.3" height="3.5" rx="0.7"/>
<rect x="157.1" y="360.8" width="4.5" height="4.3" rx="0.7"/>
<rect x="157.1" y="361.3" width="4.9" height="3.3" rx="0.7"/>
<rect x="157.3" y="369.6" width="3.1" height="4.4" rx="0.7"/>
<rect x="155.1" y="367.7" width="3.7" height="3.0" rx="0.7"/>
<rect x="154.5" y="366.8" width="4.2" height="4.9" rx="0.7"/>
<rect x="154.7" y="366.1" width="3.0" height="4.9" rx="0.7"/>
<rect x="160.1" y="369.1" width="2.7" height="3.5" rx="0.7"/>
<rect x="158.8" y="366.7" width="4.3" height="5.0" rx="0.7"/>
<rect x="158.8" y="366.1" width="3.0" height="4.8" rx="0.7"/>
<rect x="155.8" y="367.2" width="4.2" height="3.4" rx="0.7"/>
<rect x="155.6" y="367.6" width="2.9" height="2.5" rx="0.7"/>
<rect x="174.9" y="381.4" width="4.1" height="2.6" rx="0.7"/>
<rect x="171.9" y="383.3" width="3.8" height="3.1" rx="0.7"/>
<rect x="169.9" y="382.8" width="3.0" height="4.0" rx="0.7"/>
<rect x="167.8" y="384.2" width="4.0" height="2.3" rx="0.7"/>
<rect x="166.5" y="385.8" width="3.7" height="2.3" rx="0.7"/>
<rect x="163.7" y="384.7" width="4.0" height="2.7" rx="0.7"/>
<rect x="163.8" y="387.1" width="2.9" height="2.8" rx="0.7"/>
<rect x="162.4" y="386.8" width="2.7" height="3.6" rx="0.7"/>
<rect x="159.5" y="386.8" width="2.2" height="3.7" rx="0.7"/>
<rect x="157.9" y="388.9" width="4.1" height="2.3" rx="0.7"/>
<rect x="154.7" y="388.4" width="4.1" height="4.1" rx="0.7"/>
<rect x="153.6" y="389.1" width="3.1" height="3.2" rx="0.7"/>
<rect x="152.4" y="389.4" width="3.8" height="3.6" rx="0.7"/>
<rect x="150.5" y="391.7" width="3.4" height="2.9" rx="0.7"/>
<rect x="141.4" y="393.9" width="3.5" height="2.2" rx="0.7"/>
<rect x="143.6" y="393.9" width="2.5" height="2.2" rx="0.7"/>
<rect x="145.1" y="391.9" width="2.7" height="3.9" rx="0.7"/>
<rect x="148.8" y="392.8" width="2.6" height="2.2" rx="0.7"/>
<rect x="148.7" y="390.7" width="3.4" height="2.9" rx="0.7"/>
<rect x="151.0" y="389.5" width="3.2" height="3.3" rx="0.7"/>
<rect x="153.9" y="390.1" width="3.3" height="2.3" rx="0.7"/>
<rect x="156.1" y="388.0" width="3.1" height="2.8" rx="0.7"/>
<rect x="166.1" y="366.0" width="4.3" height="3.0" rx="0.7"/>
<rect x="167.8" y="365.8" width="2.9" height="4.7" rx="0.7"/>
<rect x="167.2" y="365.5" width="3.5" height="5.0" rx="0.7"/>
</g>
<g fill="none" stroke="#f80000" stroke-width="0.9" stroke-opacity="0.62">
<rect x="136.4" y="340.9" width="29.2" height="9.1"/>
<rect x="147.1" y="342.5" width="2.9" height="3.6" rx="0.7"/>
<rect x="148.9" y="341.9" width="3.0" height="3.3" rx="0.7"/>
<rect x="142.6" y="342.5" width="3.9" height="3.6" rx="0.7"/>
<rect x="143.0" y="343.7" width="4.1" height="3.8" rx="0.7"/>
<rect x="143.3" y="342.0" width="4.5" height="4.9" rx="0.7"/>
<rect x="145.0" y="342.0" width="2.6" height="4.4" rx="0.7"/>
<rect x="149.3" y="342.1" width="3.6" height="4.8" rx="0.7"/>
<rect x="147.6" y="342.4" width="2.9" height="4.8" rx="0.7"/>
<rect x="148.7" y="343.1" width="2.7" height="2.6" rx="0.7"/>
</g>
<g fill="none" stroke="#00f000" stroke-width="0.9" stroke-opacity="0.62">
<rect x="111.0" y="311.1" width="9.3" height="0.7"/>
<rect x="172.4" y="257.0" width="9.5" height="23.6"/>
<rect x="173.2" y="257.0" width="9.6" height="25.6"/>
<rect x="183.0" y="264.8" width="19.6" height="12.5"/>
<rect x="183.0" y="270.8" width="19.6" height="6.5"/>
<rect x="202.6" y="258.1" width="9.3" height="9.0"/>
<rect x="209.7" y="267.0" width="12.0" height="6.8"/>
<rect x="206.4" y="271.9" width="9.9" height="6.8"/>
<rect x="207.5" y="271.9" width="4.4" height="4.9" rx="0.7"/>
<rect x="202.6" y="267.0" width="7.1" height="9.8"/>
<rect x="169.1" y="270.8" width="20.4" height="17.3"/>
<rect x="180.8" y="272.4" width="9.8" height="15.8"/>
<rect x="182.0" y="274.6" width="4.0" height="11.0"/>
<rect x="150.4" y="280.6" width="16.9" height="9.3"/>
<rect x="158.0" y="277.9" width="6.0" height="6.0" rx="0.7"/>
<rect x="159.0" y="283.9" width="7.7" height="13.1"/>
<rect x="147.6" y="289.9" width="24.4" height="14.7"/>
<rect x="152.0" y="296.3" width="15.3" height="17.1"/>
<rect x="171.6" y="289.3" width="6.6" height="12.0"/>
<rect x="156.4" y="306.1" width="22.3" height="19.3"/>
<rect x="128.4" y="273.9" width="17.5" height="6.0"/>
<rect x="125.7" y="279.9" width="9.3" height="7.1"/>
<rect x="137.7" y="276.6" width="13.1" height="6.5"/>
<rect x="139.0" y="277.6" width="5.0" height="4.0" rx="0.7"/>
<rect x="141.5" y="281.6" width="5.5" height="5.4" rx="0.7"/>
<rect x="120.3" y="284.8" width="8.1" height="7.6"/>
<rect x="112.6" y="291.9" width="16.4" height="5.2"/>
<rect x="112.6" y="297.0" width="16.4" height="5.1"/>
<rect x="109.4" y="302.1" width="19.0" height="6.6"/>
<rect x="119.0" y="297.0" width="9.4" height="5.5"/>
<rect x="147.5" y="289.6" width="17.5" height="14.8"/>
<rect x="151.9" y="296.1" width="13.1" height="17.9"/>
<rect x="150.3" y="281.0" width="14.7" height="8.6"/>
<rect x="157.3" y="278.2" width="6.7" height="4.9" rx="0.7"/>
<rect x="152.0" y="306.5" width="26.5" height="18.9"/>
<rect x="152.0" y="310.8" width="23.5" height="31.2"/>
<rect x="140.7" y="336.2" width="10.6" height="14.3"/>
<rect x="146.3" y="338.1" width="5.0" height="7.4" rx="0.7"/>
<rect x="138.3" y="326.7" width="8.3" height="5.8"/>
<rect x="154.3" y="330.8" width="4.1" height="4.6" rx="0.7"/>
<rect x="129.5" y="315.5" width="7.0" height="8.3"/>
<rect x="131.0" y="318.5" width="7.0" height="6.0" rx="0.7"/>
<rect x="158.4" y="289.8" width="8.7" height="18.8"/>
<rect x="150.8" y="296.0" width="21.4" height="11.3"/>
<rect x="162.1" y="289.8" width="12.5" height="8.2"/>
<rect x="155.8" y="306.0" width="22.6" height="4.5"/>
<rect x="181.0" y="279.5" width="6.6" height="4.4" rx="0.7"/>
<rect x="166.9" y="281.1" width="5.1" height="6.8" rx="0.7"/>
<rect x="179.9" y="281.8" width="3.2" height="6.3" rx="0.7"/>
<rect x="175.6" y="283.0" width="7.4" height="4.6" rx="0.7"/>
<rect x="179.2" y="284.9" width="5.9" height="5.3" rx="0.7"/>
<rect x="165.1" y="282.6" width="5.4" height="6.3" rx="0.7"/>
<rect x="178.6" y="279.7" width="6.2" height="7.9"/>
<rect x="164.4" y="281.2" width="4.9" height="6.3" rx="0.7"/>
<rect x="165.2" y="285.0" width="3.8" height="3.6" rx="0.7"/>
<rect x="172.0" y="285.3" width="3.6" height="4.2" rx="0.7"/>
<rect x="175.3" y="284.5" width="3.4" height="5.2" rx="0.7"/>
<rect x="168.7" y="280.5" width="7.1" height="7.3" rx="0.7"/>
<rect x="137.8" y="290.9" width="4.8" height="7.4" rx="0.7"/>
<rect x="130.6" y="302.0" width="3.9" height="4.1" rx="0.7"/>
<rect x="128.0" y="299.8" width="5.9" height="4.3" rx="0.7"/>
<rect x="137.7" y="307.3" width="4.8" height="5.8" rx="0.7"/>
<rect x="134.4" y="288.2" width="5.6" height="6.1" rx="0.7"/>
<rect x="134.6" y="309.7" width="7.5" height="6.9" rx="0.7"/>
<rect x="129.0" y="306.2" width="5.0" height="5.0" rx="0.7"/>
<rect x="130.4" y="291.9" width="3.3" height="3.3" rx="0.7"/>
<rect x="128.0" y="291.5" width="4.7" height="3.3" rx="0.7"/>
<rect x="128.3" y="313.8" width="3.5" height="4.8" rx="0.7"/>
<rect x="130.3" y="297.7" width="6.1" height="3.7" rx="0.7"/>
<rect x="136.6" y="318.6" width="4.8" height="3.6" rx="0.7"/>
<rect x="128.8" y="289.7" width="5.3" height="5.4" rx="0.7"/>
<rect x="136.5" y="291.7" width="4.7" height="4.3" rx="0.7"/>
<rect x="134.3" y="290.7" width="3.1" height="7.7"/>
<rect x="132.9" y="318.6" width="5.7" height="3.1" rx="0.7"/>
<rect x="130.0" y="297.4" width="7.3" height="6.5" rx="0.7"/>
<rect x="133.9" y="309.2" width="3.8" height="6.8" rx="0.7"/>
<rect x="136.4" y="317.9" width="4.6" height="4.1" rx="0.7"/>
<rect x="134.3" y="307.9" width="7.3" height="7.0" rx="0.7"/>
<rect x="131.9" y="287.5" width="4.1" height="5.6" rx="0.7"/>
<rect x="131.1" y="308.4" width="3.1" height="4.4" rx="0.7"/>
<rect x="134.8" y="316.9" width="7.8" height="5.2"/>
<rect x="129.6" y="293.6" width="7.8" height="4.8"/>
<rect x="134.9" y="315.3" width="4.0" height="4.0" rx="0.7"/>
<rect x="133.1" y="311.0" width="7.2" height="5.4" rx="0.7"/>
<rect x="138.5" y="309.7" width="3.4" height="6.3" rx="0.7"/>
<rect x="129.5" y="310.7" width="6.8" height="5.4" rx="0.7"/>
<rect x="138.0" y="298.0" width="4.7" height="7.0" rx="0.7"/>
<rect x="135.2" y="291.4" width="5.0" height="7.7"/>
<rect x="149.1" y="324.5" width="2.9" height="3.0" rx="0.7"/>
<rect x="149.8" y="321.5" width="3.0" height="5.4" rx="0.7"/>
<rect x="141.2" y="316.6" width="3.7" height="4.4" rx="0.7"/>
<rect x="143.7" y="324.1" width="5.9" height="4.8" rx="0.7"/>
<rect x="147.4" y="318.1" width="4.0" height="5.5" rx="0.7"/>
<rect x="142.3" y="322.0" width="3.4" height="3.5" rx="0.7"/>
<rect x="141.3" y="324.7" width="3.4" height="4.0" rx="0.7"/>
<rect x="145.4" y="324.5" width="3.7" height="4.1" rx="0.7"/>
<rect x="144.5" y="320.4" width="4.0" height="5.7" rx="0.7"/>
<rect x="143.8" y="318.4" width="4.3" height="2.6" rx="0.7"/>
<rect x="141.8" y="320.1" width="2.5" height="5.3" rx="0.7"/>
<rect x="142.6" y="320.9" width="5.0" height="4.4" rx="0.7"/>
<rect x="156.1" y="320.8" width="4.4" height="5.2" rx="0.7"/>
<rect x="161.0" y="321.3" width="3.4" height="3.5" rx="0.7"/>
<rect x="161.0" y="320.0" width="4.5" height="5.1" rx="0.7"/>
<rect x="158.5" y="322.5" width="4.6" height="4.3" rx="0.7"/>
<rect x="158.6" y="324.6" width="4.1" height="4.4" rx="0.7"/>
<rect x="160.7" y="318.4" width="4.9" height="5.6" rx="0.7"/>
<rect x="160.6" y="317.5" width="4.5" height="5.8" rx="0.7"/>
<rect x="156.0" y="318.6" width="2.9" height="4.0" rx="0.7"/>
<rect x="161.6" y="323.8" width="2.8" height="4.8" rx="0.7"/>
<rect x="160.4" y="317.6" width="3.0" height="5.0" rx="0.7"/>
<rect x="156.6" y="323.2" width="5.6" height="5.9" rx="0.7"/>
<rect x="162.0" y="323.8" width="3.9" height="4.2" rx="0.7"/>
</g>
<g fill="none" stroke="#0000f0" stroke-width="0.9" stroke-opacity="0.62">
<rect x="98.4" y="307.9" width="9.1" height="6.3" rx="0.7"/>
<rect x="99.7" y="311.5" width="10.0" height="4.5" rx="0.7"/>
</g>
<rect x="56.5" y="314.8" width="14.4" height="3.2" fill="#0000f0" stroke="#111" stroke-opacity="0.7" stroke-width="0.7"/>
<rect x="146.7" y="378.7" width="6.1" height="3.2" fill="#e80000" stroke="#111" stroke-opacity="0.7" stroke-width="0.7"/>
<rect x="143.7" y="301.6" width="7.2" height="6.5" fill="#00d800" stroke="#111" stroke-opacity="0.7" stroke-width="0.7"/>
</g>
<path d="M28.4 244.4V415.1H244.7" fill="none" stroke="#5c5c5c" stroke-width="0.85"/>
<path d="M28.4 415.1v-2.2M55.4 415.1v-2.2M82.5 415.1v-2.2M109.5 415.1v-2.2M136.5 415.1v-2.2M163.6 415.1v-2.2M190.6 415.1v-2.2M217.7 415.1v-2.2M244.7 415.1v-2.2M28.4 415.1h2.2M28.4 386.7h2.2M28.4 358.2h2.2M28.4 329.8h2.2M28.4 301.3h2.2M28.4 272.9h2.2M28.4 244.4h2.2" fill="none" stroke="#5c5c5c" stroke-width="0.85"/>
<text class="tk" x="28.4" y="424.8" text-anchor="middle">28</text>
<text class="tk" x="55.4" y="424.8" text-anchor="middle">29</text>
<text class="tk" x="82.5" y="424.8" text-anchor="middle">30</text>
<text class="tk" x="109.5" y="424.8" text-anchor="middle">31</text>
<text class="tk" x="136.5" y="424.8" text-anchor="middle">32</text>
<text class="tk" x="163.6" y="424.8" text-anchor="middle">33</text>
<text class="tk" x="190.6" y="424.8" text-anchor="middle">34</text>
<text class="tk" x="217.7" y="424.8" text-anchor="middle">35</text>
<text class="tk" x="244.7" y="424.8" text-anchor="middle">36</text>
<text class="tk" x="25.9" y="418.2" text-anchor="end">0.45</text>
<text class="tk" x="25.9" y="389.8" text-anchor="end">0.5</text>
<text class="tk" x="25.9" y="361.3" text-anchor="end">0.55</text>
<text class="tk" x="25.9" y="332.9" text-anchor="end">0.6</text>
<text class="tk" x="25.9" y="304.4" text-anchor="end">0.65</text>
<text class="tk" x="25.9" y="276.0" text-anchor="end">0.7</text>
<text class="tk" x="25.9" y="247.5" text-anchor="end">0.75</text>
<text class="lb" x="136.5" y="435.0" text-anchor="middle">z1</text>
<text class="lb" transform="translate(8.4 330.2) rotate(-90)" text-anchor="middle">z2</text>
<text class="tt" x="136.5" y="240.6" text-anchor="middle">IIFP-FCMC</text>
<text class="cap" style="font-size:14px" x="131.6" y="454.3" text-anchor="middle">(<tspan>c</tspan>)</text>
</g>
<g>
<g filter="url(#bl)">
<g fill="none" stroke="#f80000" stroke-width="0.9" stroke-opacity="0.62">
<rect x="334.4" y="312.4" width="10.5" height="6.3"/>
<rect x="328.1" y="321.6" width="25.4" height="2.5"/>
<rect x="327.1" y="321.6" width="26.0" height="4.3"/>
<rect x="329.8" y="319.0" width="27.7" height="4.3"/>
<rect x="328.6" y="322.6" width="16.7" height="4.3"/>
<rect x="338.7" y="326.6" width="6.6" height="3.7" rx="0.7"/>
<rect x="341.3" y="326.6" width="6.6" height="3.7" rx="0.7"/>
<rect x="343.5" y="309.4" width="18.1" height="2.7"/>
<rect x="342.3" y="310.9" width="13.2" height="4.0"/>
<rect x="344.3" y="314.0" width="7.1" height="6.1" rx="0.7"/>
<rect x="347.3" y="316.0" width="6.1" height="6.1" rx="0.7"/>
<rect x="341.3" y="316.0" width="7.1" height="5.1" rx="0.7"/>
<rect x="351.6" y="301.3" width="16.0" height="5.9"/>
<rect x="352.4" y="302.9" width="23.3" height="3.0"/>
<rect x="351.9" y="302.2" width="9.6" height="7.3"/>
<rect x="355.5" y="304.4" width="15.2" height="4.5"/>
<rect x="360.5" y="301.0" width="25.4" height="4.3"/>
<rect x="365.6" y="301.8" width="26.4" height="2.5"/>
<rect x="369.1" y="302.7" width="17.9" height="3.2"/>
<rect x="369.7" y="306.9" width="15.5" height="3.5"/>
<rect x="363.6" y="305.4" width="17.3" height="4.5"/>
<rect x="357.5" y="305.9" width="16.2" height="5.1"/>
<rect x="375.8" y="302.9" width="15.2" height="5.1"/>
<rect x="380.8" y="301.3" width="11.4" height="5.6"/>
<rect x="389.0" y="305.9" width="4.6" height="5.1" rx="0.7"/>
<rect x="385.2" y="315.5" width="10.6" height="5.1"/>
<rect x="382.9" y="311.5" width="7.1" height="8.6"/>
<rect x="389.0" y="304.9" width="10.6" height="9.1"/>
<rect x="378.8" y="313.7" width="5.5" height="5.6" rx="0.7"/>
<rect x="357.5" y="317.8" width="15.7" height="3.2"/>
<rect x="353.4" y="317.0" width="12.2" height="4.5"/>
<rect x="361.6" y="314.5" width="16.2" height="4.0"/>
<rect x="366.6" y="312.0" width="17.3" height="3.5"/>
<rect x="370.7" y="313.0" width="12.2" height="3.5"/>
<rect x="355.5" y="309.9" width="14.2" height="4.0"/>
<rect x="359.5" y="311.5" width="16.2" height="3.3"/>
<rect x="373.7" y="308.9" width="14.2" height="4.0"/>
<rect x="350.4" y="318.5" width="8.1" height="4.0"/>
<rect x="354.5" y="319.0" width="8.1" height="3.0"/>
<rect x="363.6" y="318.0" width="7.1" height="4.0" rx="0.7"/>
<rect x="347.0" y="312.9" width="3.4" height="2.9" rx="0.7"/>
<rect x="343.6" y="315.3" width="3.9" height="3.5" rx="0.7"/>
<rect x="343.7" y="313.0" width="2.6" height="3.6" rx="0.7"/>
<rect x="344.0" y="313.5" width="3.6" height="4.6" rx="0.7"/>
<rect x="346.2" y="314.1" width="4.1" height="4.9" rx="0.7"/>
<rect x="346.8" y="314.3" width="5.0" height="2.6" rx="0.7"/>
<rect x="345.2" y="317.6" width="2.9" height="2.8" rx="0.7"/>
<rect x="375.6" y="303.4" width="4.0" height="6.0" rx="0.7"/>
<rect x="357.2" y="303.2" width="5.8" height="3.4" rx="0.7"/>
<rect x="364.6" y="304.7" width="6.5" height="5.2" rx="0.7"/>
<rect x="379.4" y="305.7" width="5.3" height="4.5" rx="0.7"/>
<rect x="371.9" y="305.5" width="4.3" height="5.9" rx="0.7"/>
</g>
<g fill="none" stroke="#00f000" stroke-width="0.9" stroke-opacity="0.62">
<rect x="378.4" y="384.3" width="13.9" height="3.9"/>
<rect x="394.2" y="374.9" width="15.2" height="6.9"/>
<rect x="391.0" y="379.9" width="14.5" height="4.5"/>
<rect x="392.3" y="384.5" width="14.5" height="4.7"/>
<rect x="393.6" y="387.1" width="5.9" height="4.8" rx="0.7"/>
<rect x="404.2" y="381.8" width="13.2" height="3.3"/>
<rect x="414.7" y="379.2" width="19.9" height="2.6"/>
<rect x="420.4" y="379.2" width="7.1" height="2.6" rx="0.7"/>
<rect x="410.0" y="365.7" width="5.2" height="9.7"/>
<rect x="415.1" y="364.4" width="5.9" height="6.2" rx="0.7"/>
<rect x="415.8" y="358.7" width="5.2" height="5.8" rx="0.7"/>
<rect x="420.0" y="347.5" width="12.0" height="11.2"/>
<rect x="426.0" y="346.3" width="8.6" height="7.1"/>
<rect x="421.4" y="360.1" width="13.2" height="10.5"/>
<rect x="421.4" y="364.5" width="13.2" height="2.2"/>
<rect x="421.4" y="368.4" width="10.6" height="2.2"/>
<rect x="429.3" y="350.2" width="12.0" height="9.9"/>
<rect x="431.4" y="353.4" width="6.6" height="11.3"/>
<rect x="434.0" y="362.1" width="13.2" height="6.5"/>
<rect x="444.0" y="358.1" width="13.2" height="6.0"/>
<rect x="449.8" y="366.1" width="8.6" height="7.9"/>
<rect x="462.4" y="364.7" width="6.7" height="7.9"/>
<rect x="457.8" y="366.6" width="6.0" height="5.4" rx="0.7"/>
<rect x="466.4" y="382.5" width="6.6" height="3.2" rx="0.7"/>
<rect x="433.3" y="380.5" width="21.2" height="5.3"/>
<rect x="438.7" y="391.0" width="7.9" height="10.6"/>
<rect x="439.7" y="393.9" width="5.1" height="5.1" rx="0.7"/>
<rect x="443.2" y="385.8" width="11.3" height="8.6"/>
<rect x="446.6" y="391.0" width="6.6" height="4.0" rx="0.7"/>
<rect x="388.1" y="381.6" width="2.3" height="4.9" rx="0.7"/>
<rect x="384.7" y="382.0" width="2.3" height="4.6" rx="0.7"/>
<rect x="386.9" y="383.7" width="3.4" height="3.1" rx="0.7"/>
<rect x="387.1" y="380.5" width="2.8" height="2.4" rx="0.7"/>
<rect x="384.6" y="380.3" width="2.4" height="2.5" rx="0.7"/>
<rect x="388.3" y="380.6" width="3.0" height="2.9" rx="0.7"/>
<rect x="385.9" y="379.3" width="3.6" height="2.6" rx="0.7"/>
<rect x="388.3" y="382.4" width="2.8" height="2.1" rx="0.7"/>
<rect x="389.5" y="379.7" width="2.6" height="3.5" rx="0.7"/>
<rect x="386.1" y="383.0" width="4.5" height="3.3" rx="0.7"/>
<rect x="387.7" y="383.4" width="3.2" height="3.6" rx="0.7"/>
<rect x="387.9" y="381.3" width="3.1" height="4.5" rx="0.7"/>
<rect x="384.6" y="379.8" width="3.3" height="3.1" rx="0.7"/>
<rect x="385.8" y="379.8" width="2.2" height="4.3" rx="0.7"/>
<rect x="389.5" y="381.4" width="2.3" height="4.6" rx="0.7"/>
<rect x="385.9" y="381.6" width="2.9" height="2.8" rx="0.7"/>
<rect x="456.0" y="389.7" width="2.5" height="3.4" rx="0.7"/>
<rect x="455.2" y="389.5" width="5.0" height="3.7" rx="0.7"/>
<rect x="453.2" y="381.1" width="3.0" height="3.1" rx="0.7"/>
<rect x="455.1" y="382.8" width="3.5" height="3.5" rx="0.7"/>
<rect x="454.2" y="381.5" width="2.0" height="2.8" rx="0.7"/>
<rect x="456.5" y="379.1" width="2.2" height="2.1" rx="0.7"/>
<rect x="460.2" y="385.0" width="3.8" height="3.6" rx="0.7"/>
<rect x="456.7" y="379.7" width="4.2" height="4.7" rx="0.7"/>
<rect x="459.1" y="385.5" width="5.0" height="2.5" rx="0.7"/>
<rect x="463.0" y="383.9" width="2.2" height="4.6" rx="0.7"/>
<rect x="454.4" y="382.5" width="4.3" height="4.5" rx="0.7"/>
<rect x="460.9" y="386.7" width="3.6" height="4.6" rx="0.7"/>
<rect x="459.6" y="384.7" width="3.8" height="4.7" rx="0.7"/>
<rect x="454.6" y="381.1" width="2.7" height="2.1" rx="0.7"/>
<rect x="459.2" y="383.9" width="2.3" height="4.6" rx="0.7"/>
<rect x="457.7" y="375.3" width="3.9" height="4.1" rx="0.7"/>
<rect x="457.6" y="382.8" width="4.5" height="4.3" rx="0.7"/>
<rect x="459.9" y="379.3" width="4.0" height="2.2" rx="0.7"/>
<rect x="461.2" y="378.4" width="2.3" height="2.8" rx="0.7"/>
<rect x="457.6" y="380.4" width="4.3" height="5.0" rx="0.7"/>
<rect x="460.6" y="384.1" width="3.5" height="4.1" rx="0.7"/>
<rect x="454.5" y="379.4" width="4.0" height="2.3" rx="0.7"/>
<rect x="458.2" y="375.4" width="4.3" height="2.9" rx="0.7"/>
<rect x="460.6" y="386.0" width="2.2" height="2.8" rx="0.7"/>
<rect x="457.9" y="382.5" width="4.1" height="2.9" rx="0.7"/>
<rect x="461.9" y="378.4" width="3.4" height="2.4" rx="0.7"/>
<rect x="453.3" y="381.5" width="5.0" height="4.9" rx="0.7"/>
<rect x="457.1" y="378.9" width="4.5" height="5.0" rx="0.7"/>
<rect x="455.4" y="383.1" width="2.7" height="4.9" rx="0.7"/>
<rect x="463.4" y="377.2" width="2.5" height="3.6" rx="0.7"/>
<rect x="460.9" y="385.7" width="4.5" height="3.6" rx="0.7"/>
<rect x="458.3" y="375.6" width="2.7" height="4.7" rx="0.7"/>
<rect x="458.2" y="379.7" width="2.0" height="3.5" rx="0.7"/>
<rect x="456.6" y="388.1" width="2.5" height="3.1" rx="0.7"/>
<rect x="462.6" y="376.9" width="2.0" height="4.3" rx="0.7"/>
<rect x="460.7" y="379.4" width="4.8" height="4.2" rx="0.7"/>
<rect x="463.2" y="384.2" width="3.2" height="3.2" rx="0.7"/>
<rect x="456.0" y="376.0" width="3.1" height="3.3" rx="0.7"/>
<rect x="456.3" y="388.2" width="2.3" height="4.6" rx="0.7"/>
<rect x="458.5" y="378.2" width="2.8" height="2.8" rx="0.7"/>
<rect x="432.1" y="349.7" width="3.9" height="5.9" rx="0.7"/>
<rect x="431.6" y="348.7" width="4.8" height="5.8" rx="0.7"/>
<rect x="430.2" y="349.7" width="5.1" height="2.7" rx="0.7"/>
<rect x="427.9" y="346.6" width="5.2" height="4.8" rx="0.7"/>
<rect x="428.5" y="348.8" width="5.8" height="3.0" rx="0.7"/>
<rect x="443.4" y="391.1" width="3.3" height="4.4" rx="0.7"/>
<rect x="440.4" y="392.7" width="4.2" height="3.3" rx="0.7"/>
<rect x="438.9" y="398.0" width="3.0" height="2.9" rx="0.7"/>
<rect x="442.5" y="398.8" width="3.8" height="3.1" rx="0.7"/>
<rect x="438.7" y="389.7" width="3.7" height="2.9" rx="0.7"/>
<rect x="439.0" y="391.5" width="3.4" height="2.8" rx="0.7"/>
<rect x="446.4" y="377.7" width="4.6" height="5.7" rx="0.7"/>
<rect x="443.1" y="377.9" width="4.0" height="4.4" rx="0.7"/>
<rect x="450.2" y="377.0" width="2.8" height="3.5" rx="0.7"/>
<rect x="447.6" y="377.2" width="4.3" height="4.8" rx="0.7"/>
<rect x="443.5" y="378.8" width="3.5" height="3.4" rx="0.7"/>
<rect x="446.3" y="376.3" width="5.9" height="5.5" rx="0.7"/>
<rect x="449.5" y="378.2" width="2.7" height="5.0" rx="0.7"/>
<rect x="443.0" y="382.4" width="4.6" height="2.5" rx="0.7"/>
<rect x="447.6" y="377.1" width="5.5" height="5.6" rx="0.7"/>
<rect x="454.9" y="367.7" width="2.8" height="2.9" rx="0.7"/>
<rect x="453.9" y="367.7" width="4.9" height="4.4" rx="0.7"/>
<rect x="453.5" y="368.2" width="3.7" height="3.9" rx="0.7"/>
<rect x="455.0" y="362.0" width="3.1" height="4.9" rx="0.7"/>
<rect x="455.2" y="367.7" width="2.9" height="3.2" rx="0.7"/>
<rect x="454.9" y="366.4" width="2.8" height="2.7" rx="0.7"/>
<rect x="454.7" y="358.6" width="3.5" height="3.1" rx="0.7"/>
<rect x="455.7" y="366.6" width="3.3" height="3.7" rx="0.7"/>
<rect x="453.6" y="361.6" width="4.8" height="3.7" rx="0.7"/>
<rect x="453.6" y="358.7" width="5.0" height="4.3" rx="0.7"/>
<rect x="454.2" y="361.6" width="3.8" height="4.2" rx="0.7"/>
<rect x="453.7" y="358.9" width="4.2" height="4.9" rx="0.7"/>
<rect x="455.0" y="361.0" width="3.4" height="3.6" rx="0.7"/>
<rect x="454.0" y="360.9" width="4.6" height="4.4" rx="0.7"/>
<rect x="454.0" y="361.5" width="5.0" height="3.3" rx="0.7"/>
<rect x="454.2" y="369.8" width="3.1" height="4.5" rx="0.7"/>
<rect x="451.9" y="367.9" width="3.8" height="3.0" rx="0.7"/>
<rect x="451.4" y="367.1" width="4.2" height="4.9" rx="0.7"/>
<rect x="451.5" y="366.4" width="3.1" height="5.0" rx="0.7"/>
<rect x="457.1" y="369.3" width="2.7" height="3.5" rx="0.7"/>
<rect x="455.7" y="366.9" width="4.4" height="5.0" rx="0.7"/>
<rect x="455.7" y="366.3" width="3.0" height="4.9" rx="0.7"/>
<rect x="452.7" y="367.4" width="4.2" height="3.5" rx="0.7"/>
<rect x="452.5" y="367.8" width="3.0" height="2.5" rx="0.7"/>
<rect x="472.0" y="381.9" width="4.2" height="2.7" rx="0.7"/>
<rect x="469.1" y="383.8" width="3.9" height="3.1" rx="0.7"/>
<rect x="467.0" y="383.3" width="3.0" height="4.0" rx="0.7"/>
<rect x="464.8" y="384.6" width="4.0" height="2.3" rx="0.7"/>
<rect x="463.5" y="386.2" width="3.8" height="2.3" rx="0.7"/>
<rect x="460.7" y="385.2" width="4.1" height="2.8" rx="0.7"/>
<rect x="460.8" y="387.6" width="2.9" height="2.8" rx="0.7"/>
<rect x="459.4" y="387.3" width="2.8" height="3.7" rx="0.7"/>
<rect x="456.4" y="387.3" width="2.3" height="3.7" rx="0.7"/>
<rect x="454.8" y="389.4" width="4.1" height="2.3" rx="0.7"/>
<rect x="451.5" y="388.9" width="4.1" height="4.1" rx="0.7"/>
<rect x="450.4" y="389.6" width="3.1" height="3.2" rx="0.7"/>
<rect x="449.3" y="390.0" width="3.8" height="3.7" rx="0.7"/>
<rect x="447.3" y="392.3" width="3.5" height="2.9" rx="0.7"/>
<rect x="438.1" y="394.5" width="3.6" height="2.3" rx="0.7"/>
<rect x="440.3" y="394.5" width="2.6" height="2.2" rx="0.7"/>
<rect x="441.8" y="392.4" width="2.7" height="3.9" rx="0.7"/>
<rect x="445.5" y="393.3" width="2.6" height="2.3" rx="0.7"/>
<rect x="445.5" y="391.2" width="3.4" height="2.9" rx="0.7"/>
<rect x="447.8" y="390.1" width="3.3" height="3.4" rx="0.7"/>
<rect x="450.8" y="390.6" width="3.3" height="2.3" rx="0.7"/>
<rect x="453.0" y="388.5" width="3.2" height="2.8" rx="0.7"/>
<rect x="463.2" y="366.2" width="4.4" height="3.0" rx="0.7"/>
<rect x="464.9" y="366.0" width="2.9" height="4.8" rx="0.7"/>
<rect x="464.3" y="365.7" width="3.5" height="5.0" rx="0.7"/>
</g>
<g fill="none" stroke="#00f000" stroke-width="0.9" stroke-opacity="0.62">
<rect x="433.0" y="340.8" width="29.6" height="9.2"/>
<rect x="443.8" y="342.4" width="2.9" height="3.6" rx="0.7"/>
<rect x="445.6" y="341.7" width="3.0" height="3.3" rx="0.7"/>
<rect x="439.3" y="342.4" width="3.9" height="3.6" rx="0.7"/>
<rect x="439.7" y="343.6" width="4.1" height="3.8" rx="0.7"/>
<rect x="440.0" y="341.9" width="4.5" height="5.0" rx="0.7"/>
<rect x="441.7" y="341.8" width="2.6" height="4.5" rx="0.7"/>
<rect x="446.0" y="341.9" width="3.6" height="4.8" rx="0.7"/>
<rect x="444.4" y="342.3" width="2.9" height="4.9" rx="0.7"/>
<rect x="445.5" y="343.0" width="2.8" height="2.7" rx="0.7"/>
</g>
<g fill="none" stroke="#0000f0" stroke-width="0.9" stroke-opacity="0.62">
<rect x="407.2" y="310.5" width="9.4" height="0.7"/>
<rect x="469.5" y="255.6" width="9.6" height="24.0"/>
<rect x="470.3" y="255.6" width="9.7" height="26.0"/>
<rect x="480.3" y="263.6" width="19.9" height="12.6"/>
<rect x="480.3" y="269.7" width="19.9" height="6.6"/>
<rect x="500.2" y="256.8" width="9.4" height="9.1"/>
<rect x="507.4" y="265.9" width="12.2" height="6.9"/>
<rect x="504.0" y="270.8" width="10.0" height="6.9"/>
<rect x="505.1" y="270.8" width="4.5" height="5.0" rx="0.7"/>
<rect x="500.2" y="265.9" width="7.2" height="9.9"/>
<rect x="466.2" y="269.7" width="20.7" height="17.6"/>
<rect x="478.1" y="271.3" width="9.9" height="16.0"/>
<rect x="479.3" y="273.5" width="4.1" height="11.1"/>
<rect x="447.2" y="279.6" width="17.2" height="9.4"/>
<rect x="454.9" y="276.9" width="6.1" height="6.1" rx="0.7"/>
<rect x="455.9" y="282.9" width="7.8" height="13.2"/>
<rect x="444.4" y="289.0" width="24.8" height="14.9"/>
<rect x="448.8" y="295.6" width="15.5" height="17.4"/>
<rect x="468.7" y="288.4" width="6.7" height="12.1"/>
<rect x="453.3" y="305.5" width="22.6" height="19.6"/>
<rect x="424.9" y="272.8" width="17.8" height="6.1"/>
<rect x="422.1" y="278.9" width="9.4" height="7.2"/>
<rect x="434.3" y="275.6" width="13.3" height="6.6"/>
<rect x="435.6" y="276.6" width="5.1" height="4.0" rx="0.7"/>
<rect x="438.2" y="280.6" width="5.6" height="5.5" rx="0.7"/>
<rect x="416.7" y="283.8" width="8.2" height="7.7"/>
<rect x="408.8" y="291.0" width="16.6" height="5.3"/>
<rect x="408.8" y="296.3" width="16.6" height="5.2"/>
<rect x="405.6" y="301.4" width="19.3" height="6.7"/>
<rect x="415.3" y="296.3" width="9.5" height="5.6"/>
<rect x="444.3" y="288.7" width="17.8" height="15.0"/>
<rect x="448.7" y="295.4" width="13.3" height="18.2"/>
<rect x="447.1" y="280.0" width="14.9" height="8.7"/>
<rect x="454.2" y="277.2" width="6.8" height="5.0" rx="0.7"/>
<rect x="448.8" y="305.9" width="26.9" height="19.2"/>
<rect x="448.8" y="310.2" width="23.8" height="31.6"/>
<rect x="437.4" y="336.0" width="10.8" height="14.5"/>
<rect x="443.0" y="337.9" width="5.1" height="7.5" rx="0.7"/>
<rect x="434.9" y="326.3" width="8.4" height="5.9"/>
<rect x="451.2" y="330.6" width="4.2" height="4.7" rx="0.7"/>
<rect x="426.0" y="315.0" width="7.1" height="8.4"/>
<rect x="427.5" y="318.0" width="7.1" height="6.1" rx="0.7"/>
<rect x="455.3" y="288.9" width="8.8" height="19.1"/>
<rect x="447.6" y="295.3" width="21.7" height="11.4"/>
<rect x="459.1" y="288.9" width="12.7" height="8.3"/>
<rect x="452.7" y="305.4" width="22.9" height="4.5"/>
<rect x="478.3" y="278.5" width="6.7" height="4.5" rx="0.7"/>
<rect x="463.9" y="280.2" width="5.2" height="6.9" rx="0.7"/>
<rect x="477.1" y="280.9" width="3.2" height="6.4" rx="0.7"/>
<rect x="472.7" y="282.0" width="7.5" height="4.6" rx="0.7"/>
<rect x="476.4" y="284.0" width="6.0" height="5.3" rx="0.7"/>
<rect x="462.2" y="281.6" width="5.4" height="6.4" rx="0.7"/>
<rect x="475.8" y="278.7" width="6.3" height="8.1"/>
<rect x="461.4" y="280.2" width="5.0" height="6.4" rx="0.7"/>
<rect x="462.2" y="284.1" width="3.9" height="3.6" rx="0.7"/>
<rect x="469.1" y="284.4" width="3.7" height="4.3" rx="0.7"/>
<rect x="472.5" y="283.6" width="3.5" height="5.3" rx="0.7"/>
<rect x="465.8" y="279.5" width="7.2" height="7.4" rx="0.7"/>
<rect x="434.4" y="290.0" width="4.9" height="7.5"/>
<rect x="427.1" y="301.3" width="3.9" height="4.2" rx="0.7"/>
<rect x="424.5" y="299.1" width="6.0" height="4.4" rx="0.7"/>
<rect x="434.3" y="306.7" width="4.9" height="5.9" rx="0.7"/>
<rect x="430.9" y="287.3" width="5.7" height="6.2" rx="0.7"/>
<rect x="431.1" y="309.1" width="7.6" height="7.0"/>
<rect x="425.5" y="305.6" width="5.0" height="5.1" rx="0.7"/>
<rect x="426.9" y="291.0" width="3.4" height="3.4" rx="0.7"/>
<rect x="424.5" y="290.7" width="4.8" height="3.3" rx="0.7"/>
<rect x="424.8" y="313.2" width="3.6" height="4.9" rx="0.7"/>
<rect x="426.8" y="297.0" width="6.2" height="3.8" rx="0.7"/>
<rect x="433.2" y="318.2" width="4.9" height="3.7" rx="0.7"/>
<rect x="425.3" y="288.8" width="5.4" height="5.5" rx="0.7"/>
<rect x="433.1" y="290.8" width="4.8" height="4.4" rx="0.7"/>
<rect x="430.8" y="289.9" width="3.2" height="7.8"/>
<rect x="429.4" y="318.2" width="5.8" height="3.2" rx="0.7"/>
<rect x="426.5" y="296.6" width="7.4" height="6.6" rx="0.7"/>
<rect x="430.5" y="308.6" width="3.9" height="6.9" rx="0.7"/>
<rect x="433.0" y="317.4" width="4.7" height="4.2" rx="0.7"/>
<rect x="430.9" y="307.3" width="7.4" height="7.1" rx="0.7"/>
<rect x="428.4" y="286.6" width="4.2" height="5.7" rx="0.7"/>
<rect x="427.6" y="307.8" width="3.2" height="4.4" rx="0.7"/>
<rect x="431.3" y="316.4" width="7.9" height="5.3"/>
<rect x="426.1" y="292.8" width="7.9" height="4.9"/>
<rect x="431.5" y="314.8" width="4.0" height="4.1" rx="0.7"/>
<rect x="429.6" y="310.4" width="7.3" height="5.5" rx="0.7"/>
<rect x="435.2" y="309.2" width="3.5" height="6.4" rx="0.7"/>
<rect x="426.0" y="310.1" width="6.9" height="5.4" rx="0.7"/>
<rect x="434.7" y="297.3" width="4.7" height="7.1" rx="0.7"/>
<rect x="431.8" y="290.5" width="5.1" height="7.8"/>
<rect x="445.9" y="324.1" width="3.0" height="3.1" rx="0.7"/>
<rect x="446.6" y="321.1" width="3.1" height="5.5" rx="0.7"/>
<rect x="437.9" y="316.1" width="3.8" height="4.5" rx="0.7"/>
<rect x="440.4" y="323.8" width="6.0" height="4.8" rx="0.7"/>
<rect x="444.2" y="317.6" width="4.1" height="5.6" rx="0.7"/>
<rect x="439.0" y="321.6" width="3.4" height="3.6" rx="0.7"/>
<rect x="437.9" y="324.3" width="3.5" height="4.0" rx="0.7"/>
<rect x="442.1" y="324.1" width="3.8" height="4.1" rx="0.7"/>
<rect x="441.2" y="319.9" width="4.0" height="5.8" rx="0.7"/>
<rect x="440.5" y="317.9" width="4.4" height="2.6" rx="0.7"/>
<rect x="438.5" y="319.7" width="2.6" height="5.4" rx="0.7"/>
<rect x="439.3" y="320.5" width="5.1" height="4.5" rx="0.7"/>
<rect x="453.0" y="320.4" width="4.5" height="5.3" rx="0.7"/>
<rect x="458.0" y="320.9" width="3.4" height="3.5" rx="0.7"/>
<rect x="458.0" y="319.5" width="4.5" height="5.2" rx="0.7"/>
<rect x="455.4" y="322.1" width="4.7" height="4.3" rx="0.7"/>
<rect x="455.5" y="324.2" width="4.1" height="4.4" rx="0.7"/>
<rect x="457.7" y="318.0" width="5.0" height="5.6" rx="0.7"/>
<rect x="457.5" y="317.0" width="4.5" height="5.9" rx="0.7"/>
<rect x="452.9" y="318.2" width="3.0" height="4.1" rx="0.7"/>
<rect x="458.5" y="323.4" width="2.8" height="4.9" rx="0.7"/>
<rect x="457.4" y="317.2" width="3.1" height="5.1" rx="0.7"/>
<rect x="453.5" y="322.9" width="5.7" height="6.0" rx="0.7"/>
<rect x="459.0" y="323.4" width="4.0" height="4.3" rx="0.7"/>
</g>
<g fill="none" stroke="#f80000" stroke-width="0.9" stroke-opacity="0.62">
<rect x="394.4" y="307.3" width="9.2" height="6.4" rx="0.7"/>
<rect x="395.8" y="310.9" width="10.1" height="4.5" rx="0.7"/>
</g>
<rect x="351.9" y="314.3" width="14.6" height="3.2" fill="#e80000" stroke="#111" stroke-opacity="0.7" stroke-width="0.7"/>
<rect x="443.5" y="379.1" width="6.2" height="3.2" fill="#00d800" stroke="#111" stroke-opacity="0.7" stroke-width="0.7"/>
<rect x="440.4" y="300.9" width="7.3" height="6.6" fill="#0000f0" stroke="#111" stroke-opacity="0.7" stroke-width="0.7"/>
</g>
<path d="M323.4 242.9V416.0H542.9" fill="none" stroke="#5c5c5c" stroke-width="0.85"/>
<path d="M323.4 416.0v-2.2M350.8 416.0v-2.2M378.3 416.0v-2.2M405.7 416.0v-2.2M433.1 416.0v-2.2M460.6 416.0v-2.2M488.0 416.0v-2.2M515.5 416.0v-2.2M542.9 416.0v-2.2M323.4 416.0h2.2M323.4 387.1h2.2M323.4 358.3h2.2M323.4 329.4h2.2M323.4 300.6h2.2M323.4 271.8h2.2M323.4 242.9h2.2" fill="none" stroke="#5c5c5c" stroke-width="0.85"/>
<text class="tk" x="323.4" y="425.7" text-anchor="middle">28</text>
<text class="tk" x="350.8" y="425.7" text-anchor="middle">29</text>
<text class="tk" x="378.3" y="425.7" text-anchor="middle">30</text>
<text class="tk" x="405.7" y="425.7" text-anchor="middle">31</text>
<text class="tk" x="433.1" y="425.7" text-anchor="middle">32</text>
<text class="tk" x="460.6" y="425.7" text-anchor="middle">33</text>
<text class="tk" x="488.0" y="425.7" text-anchor="middle">34</text>
<text class="tk" x="515.5" y="425.7" text-anchor="middle">35</text>
<text class="tk" x="542.9" y="425.7" text-anchor="middle">36</text>
<text class="tk" x="320.5" y="419.1" text-anchor="end">0.45</text>
<text class="tk" x="320.5" y="390.2" text-anchor="end">0.5</text>
<text class="tk" x="320.5" y="361.4" text-anchor="end">0.55</text>
<text class="tk" x="320.5" y="332.6" text-anchor="end">0.6</text>
<text class="tk" x="320.5" y="303.7" text-anchor="end">0.65</text>
<text class="tk" x="320.5" y="274.9" text-anchor="end">0.7</text>
<text class="tk" x="320.5" y="246.0" text-anchor="end">0.75</text>
<text class="lb" x="433.1" y="436.5" text-anchor="middle">z1</text>
<text class="lb" transform="translate(303.4 329.9) rotate(-90)" text-anchor="middle">z2</text>
<text class="tt" x="433.1" y="238.9" text-anchor="middle">IIFP-FCMC</text>
<text class="cap" style="font-size:14.7px" x="428.6" y="453.6" text-anchor="middle">(<tspan>d</tspan>)</text>
</g>
</svg></body></html>
